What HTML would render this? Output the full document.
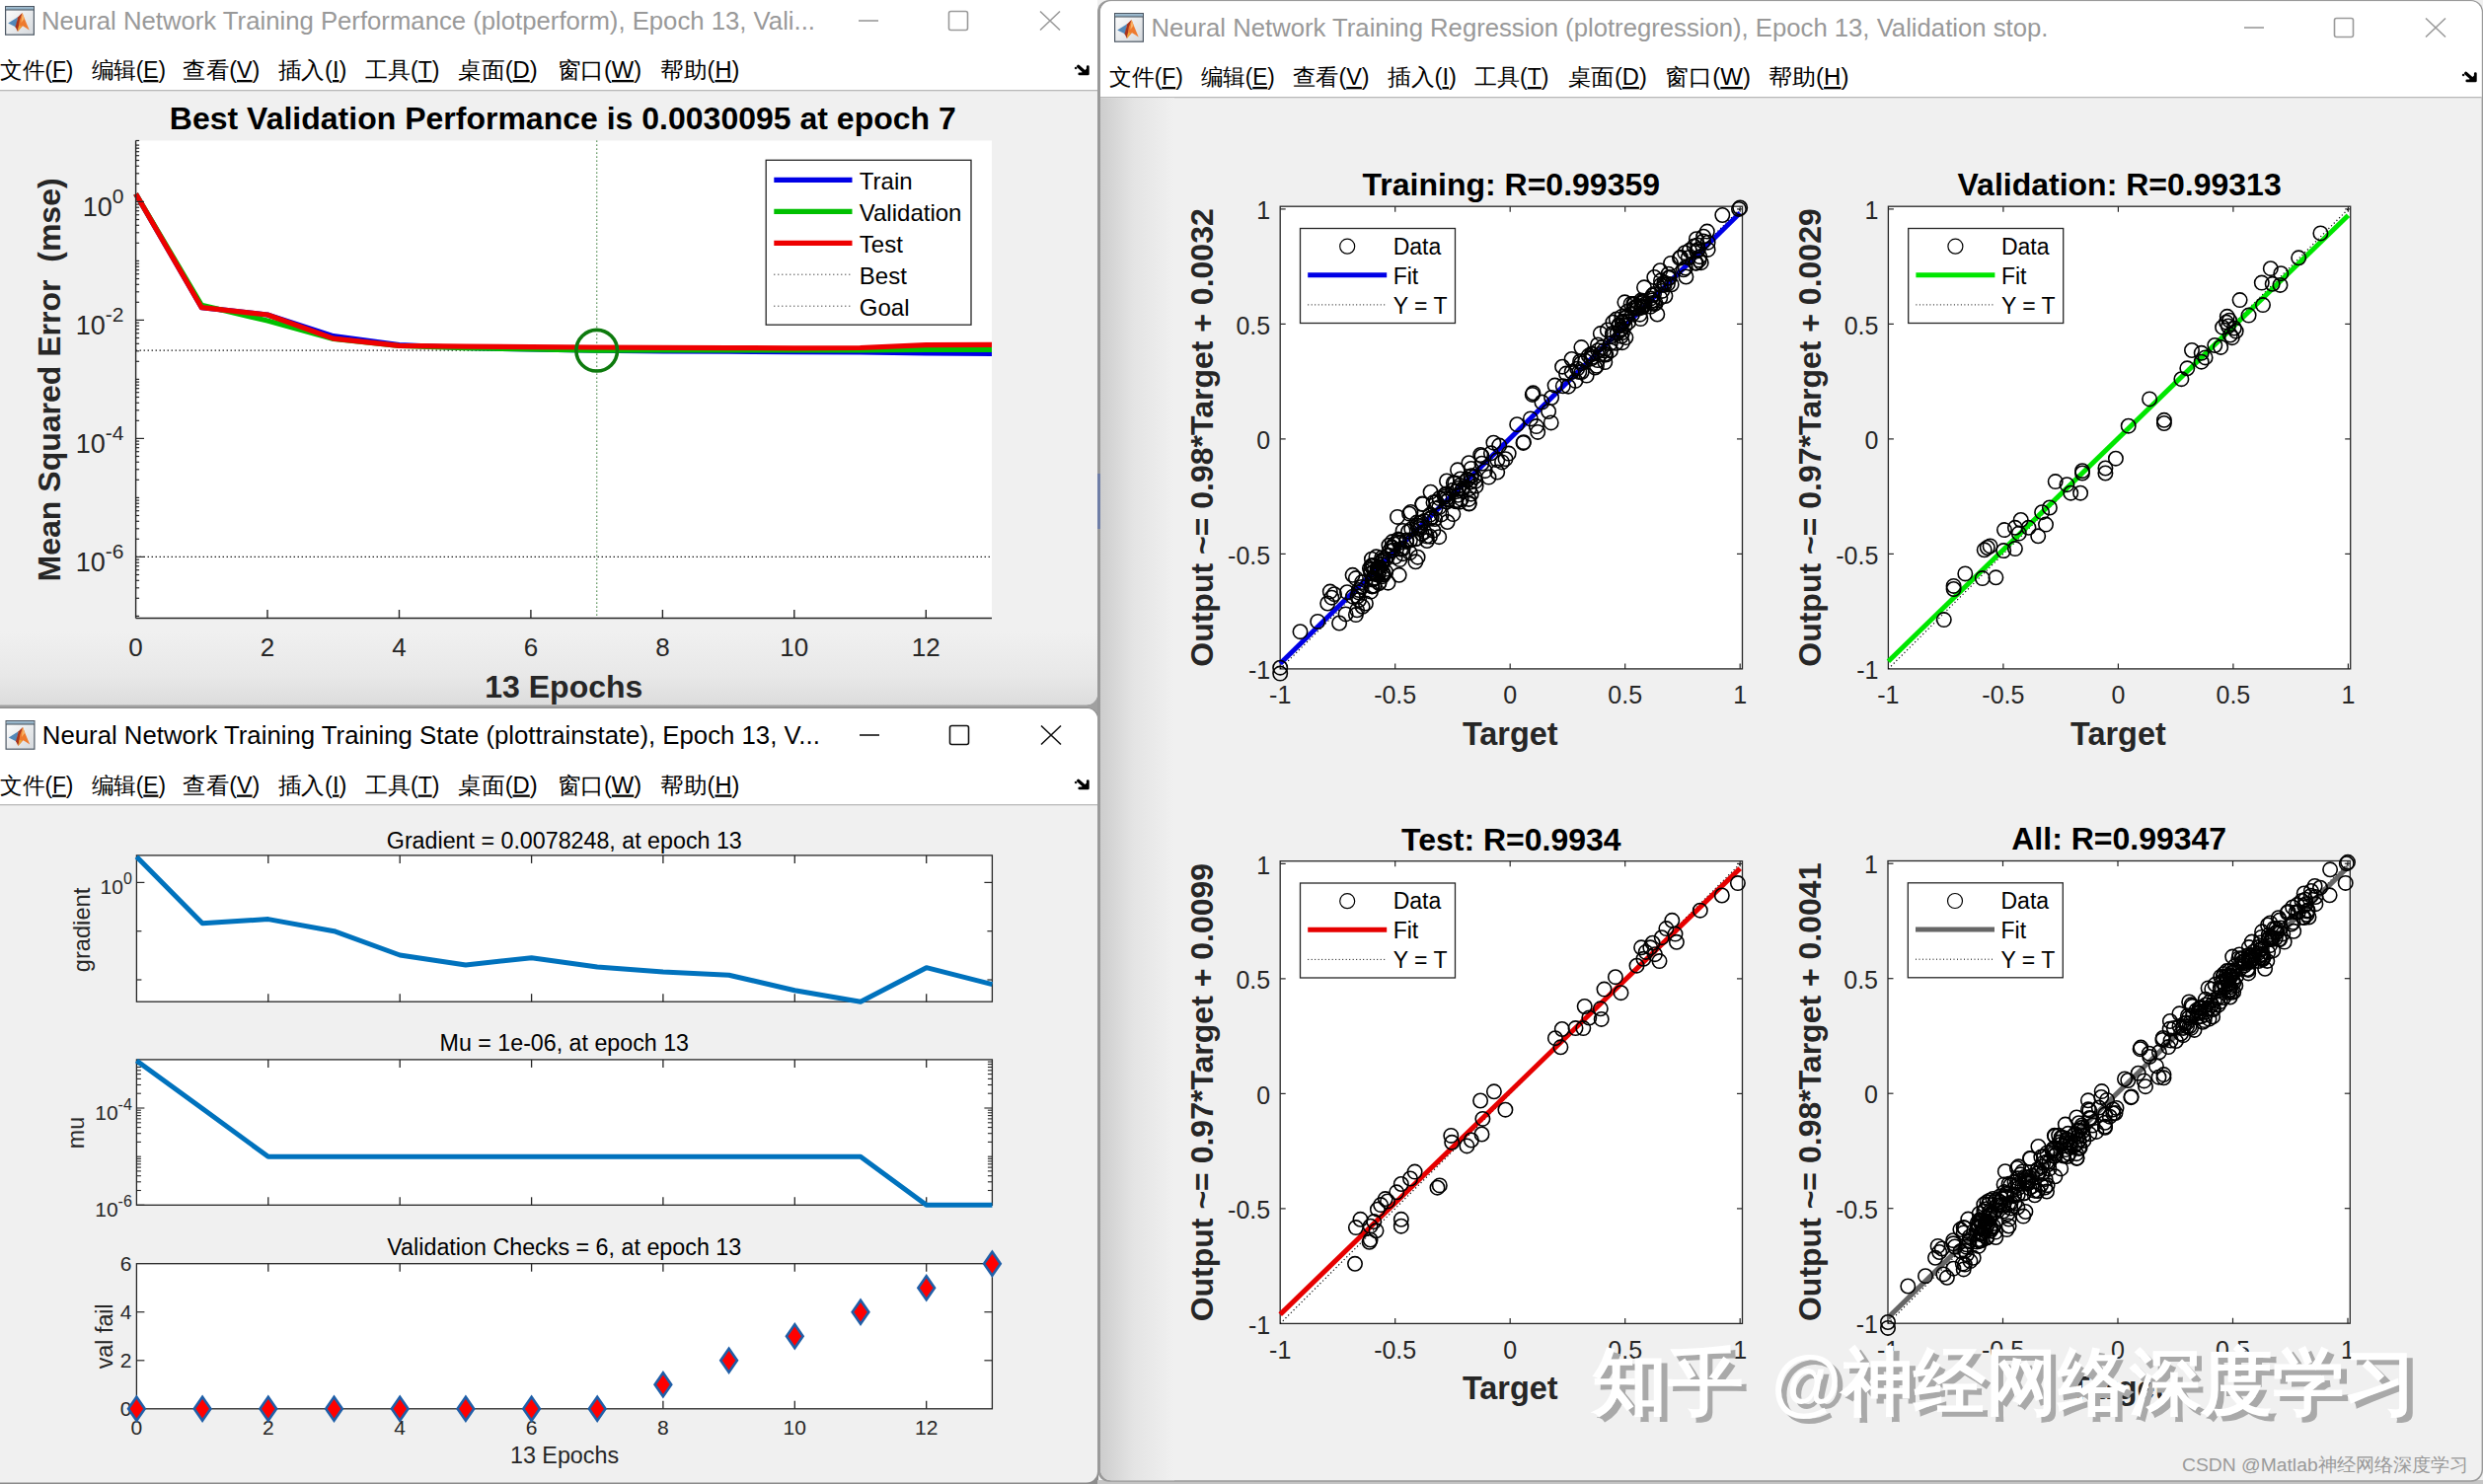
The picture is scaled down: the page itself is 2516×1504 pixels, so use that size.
<!DOCTYPE html><html><head><meta charset="utf-8"><style>html,body{margin:0;padding:0;background:#f0f0f0;overflow:hidden}svg{display:block}</style></head><body>
<svg width="2516" height="1504" viewBox="0 0 2516 1504" font-family='"Liberation Sans", sans-serif'>
<defs><linearGradient id="shadowB" x1="0" y1="0" x2="0" y2="1"><stop offset="0" stop-color="#f0f0f0"/><stop offset="0.6" stop-color="#e8e8e8"/><stop offset="1" stop-color="#dcdcdc"/></linearGradient><linearGradient id="shadowL" x1="0" y1="0" x2="1" y2="0"><stop offset="0" stop-color="#cdcdcd"/><stop offset="0.45" stop-color="#e4e4e4"/><stop offset="1" stop-color="#f0f0f0"/></linearGradient><linearGradient id="icbg" x1="0" y1="0" x2="1" y2="1"><stop offset="0" stop-color="#ffffff"/><stop offset="1" stop-color="#d4d8dc"/></linearGradient></defs>
<rect width="2516" height="1504" fill="#f0f0f0"/>
<rect x="0" y="700" width="1116" height="30" fill="#a0a0a0"/>
<rect x="-20" y="-20" width="1132" height="737.5" rx="12" fill="#a0a0a0"/>
<clipPath id="cw1"><rect x="-20" y="-20" width="1132" height="734.3" rx="11"/></clipPath>
<g clip-path="url(#cw1)">
<rect x="0" y="0" width="1112" height="716" fill="#f0f0f0"/>
<rect x="0" y="0" width="1120" height="91" fill="#ffffff"/>
<rect x="0" y="91" width="1112" height="1.3" fill="#b9b9b9"/>
<rect x="0" y="640" width="1112" height="75" fill="url(#shadowB)"/>
</g>
<g transform="translate(5,6) scale(1)">
<rect x="0.6" y="0.6" width="28.8" height="28.6" fill="url(#icbg)" stroke="#4d5864" stroke-width="1.2"/>
<rect x="1.2" y="1.2" width="27.6" height="2.6" fill="#93b3c9"/>
<line x1="0.6" y1="4" x2="29.4" y2="4" stroke="#3c4a56" stroke-width="1"/>
<path d="M3.2 17.4 L13.2 11.2 L11.2 21.5 Z" fill="#5287b8"/>
<path d="M13.2 11.2 L17.6 7.1 L12.9 25.9 L10.6 21.2 Z" fill="#a8341c"/>
<path d="M17.6 7.1 Q20.5 15 24.7 24.4 Q20.5 21.5 18 20.2 L12.9 25.9 L14.8 14.5 Z" fill="#ee7a2e"/>
<path d="M17.6 7.1 L19.6 13 L16.4 17 Z" fill="#f7b366"/>
<path d="M12.9 25.9 L14.2 20 L17 20.5 Z" fill="#e8a838"/>
</g>
<text x="42" y="29.5" font-size="25.7" text-anchor="start" font-weight="400" fill="#999999" textLength="784" lengthAdjust="spacingAndGlyphs">Neural Network Training Performance (plotperform), Epoch 13, Vali...</text>
<line x1="870" y1="21" x2="890" y2="21" stroke="#9a9a9a" stroke-width="1.6"/>
<rect x="961.5" y="11.5" width="19" height="19" rx="2" fill="none" stroke="#9a9a9a" stroke-width="1.6"/>
<path d="M1054 11.5 L1074 30.5 M1074 11.5 L1054 30.5" stroke="#9a9a9a" stroke-width="1.6"/>
<text x="0" y="79" font-size="23" text-anchor="start" font-weight="400" fill="#000" textLength="74.4" lengthAdjust="spacingAndGlyphs">文件(<tspan text-decoration="underline">F</tspan>)</text>
<text x="92.5" y="79" font-size="23" text-anchor="start" font-weight="400" fill="#000" textLength="75.5" lengthAdjust="spacingAndGlyphs">编辑(<tspan text-decoration="underline">E</tspan>)</text>
<text x="185.4" y="79" font-size="23" text-anchor="start" font-weight="400" fill="#000" textLength="78" lengthAdjust="spacingAndGlyphs">查看(<tspan text-decoration="underline">V</tspan>)</text>
<text x="281.9" y="79" font-size="23" text-anchor="start" font-weight="400" fill="#000" textLength="69.5" lengthAdjust="spacingAndGlyphs">插入(<tspan text-decoration="underline">I</tspan>)</text>
<text x="369.9" y="79" font-size="23" text-anchor="start" font-weight="400" fill="#000" textLength="75.5" lengthAdjust="spacingAndGlyphs">工具(<tspan text-decoration="underline">T</tspan>)</text>
<text x="464.1" y="79" font-size="23" text-anchor="start" font-weight="400" fill="#000" textLength="80.6" lengthAdjust="spacingAndGlyphs">桌面(<tspan text-decoration="underline">D</tspan>)</text>
<text x="564.5" y="79" font-size="23" text-anchor="start" font-weight="400" fill="#000" textLength="85.7" lengthAdjust="spacingAndGlyphs">窗口(<tspan text-decoration="underline">W</tspan>)</text>
<text x="669.4" y="79" font-size="23" text-anchor="start" font-weight="400" fill="#000" textLength="80" lengthAdjust="spacingAndGlyphs">帮助(<tspan text-decoration="underline">H</tspan>)</text>
<g transform="translate(1089,66)"><circle cx="1.1" cy="3" r="1.3" fill="#111"/><path d="M3.6 1.2 L11.5 8.2" stroke="#000" stroke-width="3.2" stroke-linecap="round"/><path d="M13.3 1.6 V8.9 H4.8" fill="none" stroke="#000" stroke-width="2.8" stroke-linecap="round" stroke-linejoin="round"/><path d="M13.3 2.5 V8.9 H5.5 Z" fill="#000"/></g>
<rect x="-20" y="717" width="1133" height="800" rx="12" fill="#8c8c8c"/>
<clipPath id="cw2"><rect x="-20" y="718" width="1132" height="784.5" rx="11"/></clipPath>
<g clip-path="url(#cw2)">
<rect x="0" y="718" width="1112" height="786" fill="#f0f0f0"/>
<rect x="0" y="718" width="1112" height="97" fill="#ffffff"/>
<rect x="0" y="815" width="1112" height="1.3" fill="#b9b9b9"/>
</g>
<g transform="translate(5.5,730) scale(1)">
<rect x="0.6" y="0.6" width="28.8" height="28.6" fill="url(#icbg)" stroke="#4d5864" stroke-width="1.2"/>
<rect x="1.2" y="1.2" width="27.6" height="2.6" fill="#93b3c9"/>
<line x1="0.6" y1="4" x2="29.4" y2="4" stroke="#3c4a56" stroke-width="1"/>
<path d="M3.2 17.4 L13.2 11.2 L11.2 21.5 Z" fill="#5287b8"/>
<path d="M13.2 11.2 L17.6 7.1 L12.9 25.9 L10.6 21.2 Z" fill="#a8341c"/>
<path d="M17.6 7.1 Q20.5 15 24.7 24.4 Q20.5 21.5 18 20.2 L12.9 25.9 L14.8 14.5 Z" fill="#ee7a2e"/>
<path d="M17.6 7.1 L19.6 13 L16.4 17 Z" fill="#f7b366"/>
<path d="M12.9 25.9 L14.2 20 L17 20.5 Z" fill="#e8a838"/>
</g>
<text x="42.8" y="754" font-size="25.7" text-anchor="start" font-weight="400" fill="#000000" textLength="788" lengthAdjust="spacingAndGlyphs">Neural Network Training Training State (plottrainstate), Epoch 13, V...</text>
<line x1="871" y1="745" x2="891" y2="745" stroke="#111111" stroke-width="1.6"/>
<rect x="962.5" y="735.5" width="19" height="19" rx="2" fill="none" stroke="#111111" stroke-width="1.6"/>
<path d="M1055 735.5 L1075 754.5 M1075 735.5 L1055 754.5" stroke="#111111" stroke-width="1.6"/>
<text x="0" y="803.5" font-size="23" text-anchor="start" font-weight="400" fill="#000" textLength="74.4" lengthAdjust="spacingAndGlyphs">文件(<tspan text-decoration="underline">F</tspan>)</text>
<text x="92.5" y="803.5" font-size="23" text-anchor="start" font-weight="400" fill="#000" textLength="75.5" lengthAdjust="spacingAndGlyphs">编辑(<tspan text-decoration="underline">E</tspan>)</text>
<text x="185.4" y="803.5" font-size="23" text-anchor="start" font-weight="400" fill="#000" textLength="78" lengthAdjust="spacingAndGlyphs">查看(<tspan text-decoration="underline">V</tspan>)</text>
<text x="281.9" y="803.5" font-size="23" text-anchor="start" font-weight="400" fill="#000" textLength="69.5" lengthAdjust="spacingAndGlyphs">插入(<tspan text-decoration="underline">I</tspan>)</text>
<text x="369.9" y="803.5" font-size="23" text-anchor="start" font-weight="400" fill="#000" textLength="75.5" lengthAdjust="spacingAndGlyphs">工具(<tspan text-decoration="underline">T</tspan>)</text>
<text x="464.1" y="803.5" font-size="23" text-anchor="start" font-weight="400" fill="#000" textLength="80.6" lengthAdjust="spacingAndGlyphs">桌面(<tspan text-decoration="underline">D</tspan>)</text>
<text x="564.5" y="803.5" font-size="23" text-anchor="start" font-weight="400" fill="#000" textLength="85.7" lengthAdjust="spacingAndGlyphs">窗口(<tspan text-decoration="underline">W</tspan>)</text>
<text x="669.4" y="803.5" font-size="23" text-anchor="start" font-weight="400" fill="#000" textLength="80" lengthAdjust="spacingAndGlyphs">帮助(<tspan text-decoration="underline">H</tspan>)</text>
<g transform="translate(1089,790)"><circle cx="1.1" cy="3" r="1.3" fill="#111"/><path d="M3.6 1.2 L11.5 8.2" stroke="#000" stroke-width="3.2" stroke-linecap="round"/><path d="M13.3 1.6 V8.9 H4.8" fill="none" stroke="#000" stroke-width="2.8" stroke-linecap="round" stroke-linejoin="round"/><path d="M13.3 2.5 V8.9 H5.5 Z" fill="#000"/></g>
<rect x="1112" y="1500" width="1404" height="4" fill="#c4c4c4"/>
<rect x="1112" y="0" width="1404" height="1501.8" rx="12" fill="#9a9a9a"/>
<rect x="1112" y="480" width="3" height="56" fill="#6f7ea6"/>
<clipPath id="cw3"><rect x="1115" y="1.3" width="1399.6" height="1499" rx="11"/></clipPath>
<g clip-path="url(#cw3)">
<rect x="1115" y="0" width="1401" height="1504" fill="#f0f0f0"/>
<rect x="1115" y="0" width="1401" height="98" fill="#ffffff"/>
<rect x="1115" y="98" width="1401" height="1.3" fill="#b9b9b9"/>
<rect x="1115" y="99.3" width="75" height="1404" fill="url(#shadowL)"/>
</g>
<g transform="translate(1129,13) scale(1)">
<rect x="0.6" y="0.6" width="28.8" height="28.6" fill="url(#icbg)" stroke="#4d5864" stroke-width="1.2"/>
<rect x="1.2" y="1.2" width="27.6" height="2.6" fill="#93b3c9"/>
<line x1="0.6" y1="4" x2="29.4" y2="4" stroke="#3c4a56" stroke-width="1"/>
<path d="M3.2 17.4 L13.2 11.2 L11.2 21.5 Z" fill="#5287b8"/>
<path d="M13.2 11.2 L17.6 7.1 L12.9 25.9 L10.6 21.2 Z" fill="#a8341c"/>
<path d="M17.6 7.1 Q20.5 15 24.7 24.4 Q20.5 21.5 18 20.2 L12.9 25.9 L14.8 14.5 Z" fill="#ee7a2e"/>
<path d="M17.6 7.1 L19.6 13 L16.4 17 Z" fill="#f7b366"/>
<path d="M12.9 25.9 L14.2 20 L17 20.5 Z" fill="#e8a838"/>
</g>
<text x="1166.4" y="36.6" font-size="25.7" text-anchor="start" font-weight="400" fill="#999999" textLength="909" lengthAdjust="spacingAndGlyphs">Neural Network Training Regression (plotregression), Epoch 13, Validation stop.</text>
<line x1="2274" y1="28" x2="2294" y2="28" stroke="#9a9a9a" stroke-width="1.6"/>
<rect x="2365.5" y="18.5" width="19" height="19" rx="2" fill="none" stroke="#9a9a9a" stroke-width="1.6"/>
<path d="M2458 18.5 L2478 37.5 M2478 18.5 L2458 37.5" stroke="#9a9a9a" stroke-width="1.6"/>
<text x="1124" y="86" font-size="23" text-anchor="start" font-weight="400" fill="#000" textLength="74.8" lengthAdjust="spacingAndGlyphs">文件(<tspan text-decoration="underline">F</tspan>)</text>
<text x="1216.6" y="86" font-size="23" text-anchor="start" font-weight="400" fill="#000" textLength="75.2" lengthAdjust="spacingAndGlyphs">编辑(<tspan text-decoration="underline">E</tspan>)</text>
<text x="1309.6" y="86" font-size="23" text-anchor="start" font-weight="400" fill="#000" textLength="78.1" lengthAdjust="spacingAndGlyphs">查看(<tspan text-decoration="underline">V</tspan>)</text>
<text x="1406" y="86" font-size="23" text-anchor="start" font-weight="400" fill="#000" textLength="70" lengthAdjust="spacingAndGlyphs">插入(<tspan text-decoration="underline">I</tspan>)</text>
<text x="1494" y="86" font-size="23" text-anchor="start" font-weight="400" fill="#000" textLength="75.5" lengthAdjust="spacingAndGlyphs">工具(<tspan text-decoration="underline">T</tspan>)</text>
<text x="1588.7" y="86" font-size="23" text-anchor="start" font-weight="400" fill="#000" textLength="80.1" lengthAdjust="spacingAndGlyphs">桌面(<tspan text-decoration="underline">D</tspan>)</text>
<text x="1687.4" y="86" font-size="23" text-anchor="start" font-weight="400" fill="#000" textLength="86.6" lengthAdjust="spacingAndGlyphs">窗口(<tspan text-decoration="underline">W</tspan>)</text>
<text x="1792" y="86" font-size="23" text-anchor="start" font-weight="400" fill="#000" textLength="81.5" lengthAdjust="spacingAndGlyphs">帮助(<tspan text-decoration="underline">H</tspan>)</text>
<g transform="translate(2495,73)"><circle cx="1.1" cy="3" r="1.3" fill="#111"/><path d="M3.6 1.2 L11.5 8.2" stroke="#000" stroke-width="3.2" stroke-linecap="round"/><path d="M13.3 1.6 V8.9 H4.8" fill="none" stroke="#000" stroke-width="2.8" stroke-linecap="round" stroke-linejoin="round"/><path d="M13.3 2.5 V8.9 H5.5 Z" fill="#000"/></g>
<rect x="137.6" y="142.5" width="867.4" height="484" fill="#fff"/>
<line x1="137.6" y1="564.4" x2="1005" y2="564.4" stroke="#000" stroke-width="1.3" stroke-dasharray="1.3 2.7"/>
<line x1="137.6" y1="355.2" x2="1005" y2="355.2" stroke="#000" stroke-width="1.3" stroke-dasharray="1.3 2.7"/>
<line x1="604.7" y1="142.5" x2="604.7" y2="626.5" stroke="#3d7d3d" stroke-width="1.3" stroke-dasharray="1.3 2.7"/>
<polyline points="137.6,196.5 204.3,311.7 271,319 337.8,340.7 404.5,349.6 471.2,352.5 537.9,354 604.7,355.2 671.4,355.8 738.1,356.2 804.8,356.6 871.6,357 938.3,357.8 1005,358.3" fill="none" stroke="#0000e6" stroke-width="5.2" stroke-linejoin="round"/>
<polyline points="137.6,196.5 204.3,309.3 271,325 337.8,343.5 404.5,350.5 471.2,352.6 537.9,354 604.7,355.2 671.4,355 738.1,355 804.8,355 871.6,354.8 938.3,354.5 1005,354.3" fill="none" stroke="#00c000" stroke-width="5.2" stroke-linejoin="round"/>
<polyline points="137.6,196.5 204.3,311.7 271,319 337.8,343.1 404.5,350.4 471.2,351.2 537.9,351.6 604.7,352 671.4,352.3 738.1,352.6 804.8,352.8 871.6,352.5 938.3,349.6 1005,349.4" fill="none" stroke="#ee0000" stroke-width="5.2" stroke-linejoin="round"/>
<circle cx="604.7" cy="355.2" r="20.8" fill="none" stroke="#0d7a0d" stroke-width="3.6"/>
<line x1="137.6" y1="142.5" x2="137.6" y2="626.5" stroke="#262626" stroke-width="1.4"/>
<line x1="137.6" y1="626.5" x2="1005" y2="626.5" stroke="#262626" stroke-width="1.4"/>
<line x1="271" y1="626.5" x2="271" y2="618" stroke="#262626" stroke-width="1.4"/>
<line x1="404.5" y1="626.5" x2="404.5" y2="618" stroke="#262626" stroke-width="1.4"/>
<line x1="537.9" y1="626.5" x2="537.9" y2="618" stroke="#262626" stroke-width="1.4"/>
<line x1="671.4" y1="626.5" x2="671.4" y2="618" stroke="#262626" stroke-width="1.4"/>
<line x1="804.8" y1="626.5" x2="804.8" y2="618" stroke="#262626" stroke-width="1.4"/>
<line x1="938.3" y1="626.5" x2="938.3" y2="618" stroke="#262626" stroke-width="1.4"/>
<line x1="137.6" y1="624.4" x2="141.1" y2="624.4" stroke="#262626" stroke-width="1.2"/>
<line x1="137.6" y1="606.3" x2="141.1" y2="606.3" stroke="#262626" stroke-width="1.2"/>
<line x1="137.6" y1="595.8" x2="141.1" y2="595.8" stroke="#262626" stroke-width="1.2"/>
<line x1="137.6" y1="588.3" x2="141.1" y2="588.3" stroke="#262626" stroke-width="1.2"/>
<line x1="137.6" y1="582.5" x2="141.1" y2="582.5" stroke="#262626" stroke-width="1.2"/>
<line x1="137.6" y1="577.7" x2="141.1" y2="577.7" stroke="#262626" stroke-width="1.2"/>
<line x1="137.6" y1="573.7" x2="141.1" y2="573.7" stroke="#262626" stroke-width="1.2"/>
<line x1="137.6" y1="570.2" x2="141.1" y2="570.2" stroke="#262626" stroke-width="1.2"/>
<line x1="137.6" y1="567.1" x2="141.1" y2="567.1" stroke="#262626" stroke-width="1.2"/>
<line x1="137.6" y1="564.4" x2="146" y2="564.4" stroke="#262626" stroke-width="1.2"/>
<line x1="137.6" y1="546.3" x2="141.1" y2="546.3" stroke="#262626" stroke-width="1.2"/>
<line x1="137.6" y1="535.8" x2="141.1" y2="535.8" stroke="#262626" stroke-width="1.2"/>
<line x1="137.6" y1="528.3" x2="141.1" y2="528.3" stroke="#262626" stroke-width="1.2"/>
<line x1="137.6" y1="522.5" x2="141.1" y2="522.5" stroke="#262626" stroke-width="1.2"/>
<line x1="137.6" y1="517.7" x2="141.1" y2="517.7" stroke="#262626" stroke-width="1.2"/>
<line x1="137.6" y1="513.7" x2="141.1" y2="513.7" stroke="#262626" stroke-width="1.2"/>
<line x1="137.6" y1="510.2" x2="141.1" y2="510.2" stroke="#262626" stroke-width="1.2"/>
<line x1="137.6" y1="507.1" x2="141.1" y2="507.1" stroke="#262626" stroke-width="1.2"/>
<line x1="137.6" y1="504.4" x2="141.1" y2="504.4" stroke="#262626" stroke-width="1.2"/>
<line x1="137.6" y1="486.3" x2="141.1" y2="486.3" stroke="#262626" stroke-width="1.2"/>
<line x1="137.6" y1="475.8" x2="141.1" y2="475.8" stroke="#262626" stroke-width="1.2"/>
<line x1="137.6" y1="468.3" x2="141.1" y2="468.3" stroke="#262626" stroke-width="1.2"/>
<line x1="137.6" y1="462.5" x2="141.1" y2="462.5" stroke="#262626" stroke-width="1.2"/>
<line x1="137.6" y1="457.7" x2="141.1" y2="457.7" stroke="#262626" stroke-width="1.2"/>
<line x1="137.6" y1="453.7" x2="141.1" y2="453.7" stroke="#262626" stroke-width="1.2"/>
<line x1="137.6" y1="450.2" x2="141.1" y2="450.2" stroke="#262626" stroke-width="1.2"/>
<line x1="137.6" y1="447.1" x2="141.1" y2="447.1" stroke="#262626" stroke-width="1.2"/>
<line x1="137.6" y1="444.4" x2="146" y2="444.4" stroke="#262626" stroke-width="1.2"/>
<line x1="137.6" y1="426.3" x2="141.1" y2="426.3" stroke="#262626" stroke-width="1.2"/>
<line x1="137.6" y1="415.8" x2="141.1" y2="415.8" stroke="#262626" stroke-width="1.2"/>
<line x1="137.6" y1="408.3" x2="141.1" y2="408.3" stroke="#262626" stroke-width="1.2"/>
<line x1="137.6" y1="402.5" x2="141.1" y2="402.5" stroke="#262626" stroke-width="1.2"/>
<line x1="137.6" y1="397.7" x2="141.1" y2="397.7" stroke="#262626" stroke-width="1.2"/>
<line x1="137.6" y1="393.7" x2="141.1" y2="393.7" stroke="#262626" stroke-width="1.2"/>
<line x1="137.6" y1="390.2" x2="141.1" y2="390.2" stroke="#262626" stroke-width="1.2"/>
<line x1="137.6" y1="387.1" x2="141.1" y2="387.1" stroke="#262626" stroke-width="1.2"/>
<line x1="137.6" y1="384.4" x2="141.1" y2="384.4" stroke="#262626" stroke-width="1.2"/>
<line x1="137.6" y1="366.3" x2="141.1" y2="366.3" stroke="#262626" stroke-width="1.2"/>
<line x1="137.6" y1="355.8" x2="141.1" y2="355.8" stroke="#262626" stroke-width="1.2"/>
<line x1="137.6" y1="348.3" x2="141.1" y2="348.3" stroke="#262626" stroke-width="1.2"/>
<line x1="137.6" y1="342.5" x2="141.1" y2="342.5" stroke="#262626" stroke-width="1.2"/>
<line x1="137.6" y1="337.7" x2="141.1" y2="337.7" stroke="#262626" stroke-width="1.2"/>
<line x1="137.6" y1="333.7" x2="141.1" y2="333.7" stroke="#262626" stroke-width="1.2"/>
<line x1="137.6" y1="330.2" x2="141.1" y2="330.2" stroke="#262626" stroke-width="1.2"/>
<line x1="137.6" y1="327.1" x2="141.1" y2="327.1" stroke="#262626" stroke-width="1.2"/>
<line x1="137.6" y1="324.4" x2="146" y2="324.4" stroke="#262626" stroke-width="1.2"/>
<line x1="137.6" y1="306.3" x2="141.1" y2="306.3" stroke="#262626" stroke-width="1.2"/>
<line x1="137.6" y1="295.8" x2="141.1" y2="295.8" stroke="#262626" stroke-width="1.2"/>
<line x1="137.6" y1="288.3" x2="141.1" y2="288.3" stroke="#262626" stroke-width="1.2"/>
<line x1="137.6" y1="282.5" x2="141.1" y2="282.5" stroke="#262626" stroke-width="1.2"/>
<line x1="137.6" y1="277.7" x2="141.1" y2="277.7" stroke="#262626" stroke-width="1.2"/>
<line x1="137.6" y1="273.7" x2="141.1" y2="273.7" stroke="#262626" stroke-width="1.2"/>
<line x1="137.6" y1="270.2" x2="141.1" y2="270.2" stroke="#262626" stroke-width="1.2"/>
<line x1="137.6" y1="267.1" x2="141.1" y2="267.1" stroke="#262626" stroke-width="1.2"/>
<line x1="137.6" y1="264.4" x2="141.1" y2="264.4" stroke="#262626" stroke-width="1.2"/>
<line x1="137.6" y1="246.3" x2="141.1" y2="246.3" stroke="#262626" stroke-width="1.2"/>
<line x1="137.6" y1="235.8" x2="141.1" y2="235.8" stroke="#262626" stroke-width="1.2"/>
<line x1="137.6" y1="228.3" x2="141.1" y2="228.3" stroke="#262626" stroke-width="1.2"/>
<line x1="137.6" y1="222.5" x2="141.1" y2="222.5" stroke="#262626" stroke-width="1.2"/>
<line x1="137.6" y1="217.7" x2="141.1" y2="217.7" stroke="#262626" stroke-width="1.2"/>
<line x1="137.6" y1="213.7" x2="141.1" y2="213.7" stroke="#262626" stroke-width="1.2"/>
<line x1="137.6" y1="210.2" x2="141.1" y2="210.2" stroke="#262626" stroke-width="1.2"/>
<line x1="137.6" y1="207.1" x2="141.1" y2="207.1" stroke="#262626" stroke-width="1.2"/>
<line x1="137.6" y1="204.4" x2="146" y2="204.4" stroke="#262626" stroke-width="1.2"/>
<line x1="137.6" y1="186.3" x2="141.1" y2="186.3" stroke="#262626" stroke-width="1.2"/>
<line x1="137.6" y1="175.8" x2="141.1" y2="175.8" stroke="#262626" stroke-width="1.2"/>
<line x1="137.6" y1="168.3" x2="141.1" y2="168.3" stroke="#262626" stroke-width="1.2"/>
<line x1="137.6" y1="162.5" x2="141.1" y2="162.5" stroke="#262626" stroke-width="1.2"/>
<line x1="137.6" y1="157.7" x2="141.1" y2="157.7" stroke="#262626" stroke-width="1.2"/>
<line x1="137.6" y1="153.7" x2="141.1" y2="153.7" stroke="#262626" stroke-width="1.2"/>
<line x1="137.6" y1="150.2" x2="141.1" y2="150.2" stroke="#262626" stroke-width="1.2"/>
<line x1="137.6" y1="147.1" x2="141.1" y2="147.1" stroke="#262626" stroke-width="1.2"/>
<line x1="137.6" y1="142.5" x2="141.1" y2="142.5" stroke="#262626" stroke-width="1.2"/>
<text x="137.6" y="664.6" font-size="26" text-anchor="middle" font-weight="400" fill="#262626">0</text>
<text x="271" y="664.6" font-size="26" text-anchor="middle" font-weight="400" fill="#262626">2</text>
<text x="404.5" y="664.6" font-size="26" text-anchor="middle" font-weight="400" fill="#262626">4</text>
<text x="537.9" y="664.6" font-size="26" text-anchor="middle" font-weight="400" fill="#262626">6</text>
<text x="671.4" y="664.6" font-size="26" text-anchor="middle" font-weight="400" fill="#262626">8</text>
<text x="804.8" y="664.6" font-size="26" text-anchor="middle" font-weight="400" fill="#262626">10</text>
<text x="938.3" y="664.6" font-size="26" text-anchor="middle" font-weight="400" fill="#262626">12</text>
<text x="125.5" y="218.7" font-size="27" text-anchor="end" fill="#262626">10<tspan font-size="21" dy="-12.9">0</tspan></text>
<text x="125.5" y="338.7" font-size="27" text-anchor="end" fill="#262626">10<tspan font-size="21" dy="-12.9">-2</tspan></text>
<text x="125.5" y="458.7" font-size="27" text-anchor="end" fill="#262626">10<tspan font-size="21" dy="-12.9">-4</tspan></text>
<text x="125.5" y="578.7" font-size="27" text-anchor="end" fill="#262626">10<tspan font-size="21" dy="-12.9">-6</tspan></text>
<text x="570.3" y="130.8" font-size="32" text-anchor="middle" font-weight="700" fill="#000" textLength="797" lengthAdjust="spacingAndGlyphs">Best Validation Performance is 0.0030095 at epoch 7</text>
<text x="571.3" y="706.6" font-size="32" text-anchor="middle" font-weight="700" fill="#262626">13 Epochs</text>
<text transform="translate(61,384.9) rotate(-90)" font-size="32" font-weight="700" text-anchor="middle" fill="#262626" xml:space="preserve">Mean Squared Error  (mse)</text>
<rect x="776.2" y="162.3" width="207.8" height="166.9" fill="#fff" stroke="#262626" stroke-width="1.3"/>
<line x1="784.3" y1="182.4" x2="863.5" y2="182.4" stroke="#0000e6" stroke-width="5.2"/>
<text x="870.8" y="191.7" font-size="24" text-anchor="start" font-weight="400" fill="#000">Train</text>
<line x1="784.3" y1="214.3" x2="863.5" y2="214.3" stroke="#00c000" stroke-width="5.2"/>
<text x="870.8" y="223.7" font-size="24" text-anchor="start" font-weight="400" fill="#000">Validation</text>
<line x1="784.3" y1="246.3" x2="863.5" y2="246.3" stroke="#ee0000" stroke-width="5.2"/>
<text x="870.8" y="255.6" font-size="24" text-anchor="start" font-weight="400" fill="#000">Test</text>
<line x1="784.3" y1="278.2" x2="863.5" y2="278.2" stroke="#000" stroke-width="1" stroke-dasharray="1 3"/>
<text x="870.8" y="287.6" font-size="24" text-anchor="start" font-weight="400" fill="#000">Best</text>
<line x1="784.3" y1="310.2" x2="863.5" y2="310.2" stroke="#000" stroke-width="1" stroke-dasharray="1 3"/>
<text x="870.8" y="319.5" font-size="24" text-anchor="start" font-weight="400" fill="#000">Goal</text>
<rect x="138.4" y="866.9" width="867" height="148.3" fill="#fff" stroke="#262626" stroke-width="1.3"/>
<line x1="271.8" y1="1015.2" x2="271.8" y2="1007.2" stroke="#262626" stroke-width="1.3"/>
<line x1="271.8" y1="866.9" x2="271.8" y2="874.9" stroke="#262626" stroke-width="1.3"/>
<line x1="405.2" y1="1015.2" x2="405.2" y2="1007.2" stroke="#262626" stroke-width="1.3"/>
<line x1="405.2" y1="866.9" x2="405.2" y2="874.9" stroke="#262626" stroke-width="1.3"/>
<line x1="538.6" y1="1015.2" x2="538.6" y2="1007.2" stroke="#262626" stroke-width="1.3"/>
<line x1="538.6" y1="866.9" x2="538.6" y2="874.9" stroke="#262626" stroke-width="1.3"/>
<line x1="671.9" y1="1015.2" x2="671.9" y2="1007.2" stroke="#262626" stroke-width="1.3"/>
<line x1="671.9" y1="866.9" x2="671.9" y2="874.9" stroke="#262626" stroke-width="1.3"/>
<line x1="805.3" y1="1015.2" x2="805.3" y2="1007.2" stroke="#262626" stroke-width="1.3"/>
<line x1="805.3" y1="866.9" x2="805.3" y2="874.9" stroke="#262626" stroke-width="1.3"/>
<line x1="938.7" y1="1015.2" x2="938.7" y2="1007.2" stroke="#262626" stroke-width="1.3"/>
<line x1="938.7" y1="866.9" x2="938.7" y2="874.9" stroke="#262626" stroke-width="1.3"/>
<line x1="138.4" y1="894.4" x2="146.4" y2="894.4" stroke="#262626" stroke-width="1.2"/>
<line x1="1005.4" y1="894.4" x2="997.4" y2="894.4" stroke="#262626" stroke-width="1.2"/>
<line x1="138.4" y1="943.7" x2="143.4" y2="943.7" stroke="#262626" stroke-width="1.2"/>
<line x1="1005.4" y1="943.7" x2="1000.4" y2="943.7" stroke="#262626" stroke-width="1.2"/>
<line x1="138.4" y1="993" x2="143.4" y2="993" stroke="#262626" stroke-width="1.2"/>
<line x1="1005.4" y1="993" x2="1000.4" y2="993" stroke="#262626" stroke-width="1.2"/>
<polyline points="138.4,868.3 205.1,935.7 271.8,931.6 338.5,943.7 405.2,968 471.9,978 538.6,970.7 605.2,980.1 671.9,985 738.6,988.2 805.3,1003.8 872,1015.2 938.7,980.7 1005.4,997.6" fill="none" stroke="#0072bd" stroke-width="5" stroke-linejoin="round"/>
<text x="133.8" y="906" font-size="21" text-anchor="end" fill="#262626">10<tspan font-size="16" dy="-10">0</tspan></text>
<text x="571.8" y="859.7" font-size="23.3" text-anchor="middle" font-weight="400" fill="#000" textLength="360" lengthAdjust="spacingAndGlyphs">Gradient = 0.0078248, at epoch 13</text>
<text transform="translate(91,942.5) rotate(-90)" font-size="23.7" text-anchor="middle" fill="#262626">gradient</text>
<rect x="138.4" y="1073.9" width="867" height="147.4" fill="#fff" stroke="#262626" stroke-width="1.3"/>
<line x1="271.8" y1="1221.3" x2="271.8" y2="1213.3" stroke="#262626" stroke-width="1.3"/>
<line x1="271.8" y1="1073.9" x2="271.8" y2="1081.9" stroke="#262626" stroke-width="1.3"/>
<line x1="405.2" y1="1221.3" x2="405.2" y2="1213.3" stroke="#262626" stroke-width="1.3"/>
<line x1="405.2" y1="1073.9" x2="405.2" y2="1081.9" stroke="#262626" stroke-width="1.3"/>
<line x1="538.6" y1="1221.3" x2="538.6" y2="1213.3" stroke="#262626" stroke-width="1.3"/>
<line x1="538.6" y1="1073.9" x2="538.6" y2="1081.9" stroke="#262626" stroke-width="1.3"/>
<line x1="671.9" y1="1221.3" x2="671.9" y2="1213.3" stroke="#262626" stroke-width="1.3"/>
<line x1="671.9" y1="1073.9" x2="671.9" y2="1081.9" stroke="#262626" stroke-width="1.3"/>
<line x1="805.3" y1="1221.3" x2="805.3" y2="1213.3" stroke="#262626" stroke-width="1.3"/>
<line x1="805.3" y1="1073.9" x2="805.3" y2="1081.9" stroke="#262626" stroke-width="1.3"/>
<line x1="938.7" y1="1221.3" x2="938.7" y2="1213.3" stroke="#262626" stroke-width="1.3"/>
<line x1="938.7" y1="1073.9" x2="938.7" y2="1081.9" stroke="#262626" stroke-width="1.3"/>
<line x1="138.4" y1="1221.3" x2="146.4" y2="1221.3" stroke="#262626" stroke-width="1.1"/>
<line x1="1005.4" y1="1221.3" x2="997.4" y2="1221.3" stroke="#262626" stroke-width="1.1"/>
<line x1="138.4" y1="1206.5" x2="142.9" y2="1206.5" stroke="#262626" stroke-width="1.1"/>
<line x1="1005.4" y1="1206.5" x2="1000.9" y2="1206.5" stroke="#262626" stroke-width="1.1"/>
<line x1="138.4" y1="1197.8" x2="142.9" y2="1197.8" stroke="#262626" stroke-width="1.1"/>
<line x1="1005.4" y1="1197.8" x2="1000.9" y2="1197.8" stroke="#262626" stroke-width="1.1"/>
<line x1="138.4" y1="1191.7" x2="142.9" y2="1191.7" stroke="#262626" stroke-width="1.1"/>
<line x1="1005.4" y1="1191.7" x2="1000.9" y2="1191.7" stroke="#262626" stroke-width="1.1"/>
<line x1="138.4" y1="1186.9" x2="142.9" y2="1186.9" stroke="#262626" stroke-width="1.1"/>
<line x1="1005.4" y1="1186.9" x2="1000.9" y2="1186.9" stroke="#262626" stroke-width="1.1"/>
<line x1="138.4" y1="1183.1" x2="142.9" y2="1183.1" stroke="#262626" stroke-width="1.1"/>
<line x1="1005.4" y1="1183.1" x2="1000.9" y2="1183.1" stroke="#262626" stroke-width="1.1"/>
<line x1="138.4" y1="1179.8" x2="142.9" y2="1179.8" stroke="#262626" stroke-width="1.1"/>
<line x1="1005.4" y1="1179.8" x2="1000.9" y2="1179.8" stroke="#262626" stroke-width="1.1"/>
<line x1="138.4" y1="1176.9" x2="142.9" y2="1176.9" stroke="#262626" stroke-width="1.1"/>
<line x1="1005.4" y1="1176.9" x2="1000.9" y2="1176.9" stroke="#262626" stroke-width="1.1"/>
<line x1="138.4" y1="1174.4" x2="142.9" y2="1174.4" stroke="#262626" stroke-width="1.1"/>
<line x1="1005.4" y1="1174.4" x2="1000.9" y2="1174.4" stroke="#262626" stroke-width="1.1"/>
<line x1="138.4" y1="1172.2" x2="142.9" y2="1172.2" stroke="#262626" stroke-width="1.1"/>
<line x1="1005.4" y1="1172.2" x2="1000.9" y2="1172.2" stroke="#262626" stroke-width="1.1"/>
<line x1="138.4" y1="1157.4" x2="142.9" y2="1157.4" stroke="#262626" stroke-width="1.1"/>
<line x1="1005.4" y1="1157.4" x2="1000.9" y2="1157.4" stroke="#262626" stroke-width="1.1"/>
<line x1="138.4" y1="1148.7" x2="142.9" y2="1148.7" stroke="#262626" stroke-width="1.1"/>
<line x1="1005.4" y1="1148.7" x2="1000.9" y2="1148.7" stroke="#262626" stroke-width="1.1"/>
<line x1="138.4" y1="1142.6" x2="142.9" y2="1142.6" stroke="#262626" stroke-width="1.1"/>
<line x1="1005.4" y1="1142.6" x2="1000.9" y2="1142.6" stroke="#262626" stroke-width="1.1"/>
<line x1="138.4" y1="1137.8" x2="142.9" y2="1137.8" stroke="#262626" stroke-width="1.1"/>
<line x1="1005.4" y1="1137.8" x2="1000.9" y2="1137.8" stroke="#262626" stroke-width="1.1"/>
<line x1="138.4" y1="1133.9" x2="142.9" y2="1133.9" stroke="#262626" stroke-width="1.1"/>
<line x1="1005.4" y1="1133.9" x2="1000.9" y2="1133.9" stroke="#262626" stroke-width="1.1"/>
<line x1="138.4" y1="1130.6" x2="142.9" y2="1130.6" stroke="#262626" stroke-width="1.1"/>
<line x1="1005.4" y1="1130.6" x2="1000.9" y2="1130.6" stroke="#262626" stroke-width="1.1"/>
<line x1="138.4" y1="1127.8" x2="142.9" y2="1127.8" stroke="#262626" stroke-width="1.1"/>
<line x1="1005.4" y1="1127.8" x2="1000.9" y2="1127.8" stroke="#262626" stroke-width="1.1"/>
<line x1="138.4" y1="1125.2" x2="142.9" y2="1125.2" stroke="#262626" stroke-width="1.1"/>
<line x1="1005.4" y1="1125.2" x2="1000.9" y2="1125.2" stroke="#262626" stroke-width="1.1"/>
<line x1="138.4" y1="1123" x2="146.4" y2="1123" stroke="#262626" stroke-width="1.1"/>
<line x1="1005.4" y1="1123" x2="997.4" y2="1123" stroke="#262626" stroke-width="1.1"/>
<line x1="138.4" y1="1108.2" x2="142.9" y2="1108.2" stroke="#262626" stroke-width="1.1"/>
<line x1="1005.4" y1="1108.2" x2="1000.9" y2="1108.2" stroke="#262626" stroke-width="1.1"/>
<line x1="138.4" y1="1099.5" x2="142.9" y2="1099.5" stroke="#262626" stroke-width="1.1"/>
<line x1="1005.4" y1="1099.5" x2="1000.9" y2="1099.5" stroke="#262626" stroke-width="1.1"/>
<line x1="138.4" y1="1093.4" x2="142.9" y2="1093.4" stroke="#262626" stroke-width="1.1"/>
<line x1="1005.4" y1="1093.4" x2="1000.9" y2="1093.4" stroke="#262626" stroke-width="1.1"/>
<line x1="138.4" y1="1088.6" x2="142.9" y2="1088.6" stroke="#262626" stroke-width="1.1"/>
<line x1="1005.4" y1="1088.6" x2="1000.9" y2="1088.6" stroke="#262626" stroke-width="1.1"/>
<line x1="138.4" y1="1084.8" x2="142.9" y2="1084.8" stroke="#262626" stroke-width="1.1"/>
<line x1="1005.4" y1="1084.8" x2="1000.9" y2="1084.8" stroke="#262626" stroke-width="1.1"/>
<line x1="138.4" y1="1081.5" x2="142.9" y2="1081.5" stroke="#262626" stroke-width="1.1"/>
<line x1="1005.4" y1="1081.5" x2="1000.9" y2="1081.5" stroke="#262626" stroke-width="1.1"/>
<line x1="138.4" y1="1078.6" x2="142.9" y2="1078.6" stroke="#262626" stroke-width="1.1"/>
<line x1="1005.4" y1="1078.6" x2="1000.9" y2="1078.6" stroke="#262626" stroke-width="1.1"/>
<line x1="138.4" y1="1076.1" x2="142.9" y2="1076.1" stroke="#262626" stroke-width="1.1"/>
<line x1="1005.4" y1="1076.1" x2="1000.9" y2="1076.1" stroke="#262626" stroke-width="1.1"/>
<polyline points="138.4,1075 205.1,1123.6 271.8,1172.3 338.5,1172.3 405.2,1172.3 471.9,1172.3 538.6,1172.3 605.2,1172.3 671.9,1172.3 738.6,1172.3 805.3,1172.3 872,1172.3 938.7,1221.3 1005.4,1221.3" fill="none" stroke="#0072bd" stroke-width="5" stroke-linejoin="round"/>
<text x="133.8" y="1135" font-size="21" text-anchor="end" fill="#262626">10<tspan font-size="16" dy="-10.5">-4</tspan></text>
<text x="133.8" y="1233.3" font-size="21" text-anchor="end" fill="#262626">10<tspan font-size="16" dy="-10.5">-6</tspan></text>
<text x="571.8" y="1065" font-size="23.3" text-anchor="middle" font-weight="400" fill="#000" textLength="252.5" lengthAdjust="spacingAndGlyphs">Mu = 1e-06, at epoch 13</text>
<text transform="translate(84.5,1148) rotate(-90)" font-size="23.3" text-anchor="middle" fill="#262626">mu</text>
<rect x="138.4" y="1280.7" width="867" height="147.1" fill="#fff" stroke="#262626" stroke-width="1.3"/>
<line x1="271.8" y1="1427.8" x2="271.8" y2="1419.8" stroke="#262626" stroke-width="1.3"/>
<line x1="271.8" y1="1280.7" x2="271.8" y2="1288.7" stroke="#262626" stroke-width="1.3"/>
<line x1="405.2" y1="1427.8" x2="405.2" y2="1419.8" stroke="#262626" stroke-width="1.3"/>
<line x1="405.2" y1="1280.7" x2="405.2" y2="1288.7" stroke="#262626" stroke-width="1.3"/>
<line x1="538.6" y1="1427.8" x2="538.6" y2="1419.8" stroke="#262626" stroke-width="1.3"/>
<line x1="538.6" y1="1280.7" x2="538.6" y2="1288.7" stroke="#262626" stroke-width="1.3"/>
<line x1="671.9" y1="1427.8" x2="671.9" y2="1419.8" stroke="#262626" stroke-width="1.3"/>
<line x1="671.9" y1="1280.7" x2="671.9" y2="1288.7" stroke="#262626" stroke-width="1.3"/>
<line x1="805.3" y1="1427.8" x2="805.3" y2="1419.8" stroke="#262626" stroke-width="1.3"/>
<line x1="805.3" y1="1280.7" x2="805.3" y2="1288.7" stroke="#262626" stroke-width="1.3"/>
<line x1="938.7" y1="1427.8" x2="938.7" y2="1419.8" stroke="#262626" stroke-width="1.3"/>
<line x1="938.7" y1="1280.7" x2="938.7" y2="1288.7" stroke="#262626" stroke-width="1.3"/>
<line x1="138.4" y1="1378.8" x2="146.4" y2="1378.8" stroke="#262626" stroke-width="1.2"/>
<line x1="1005.4" y1="1378.8" x2="997.4" y2="1378.8" stroke="#262626" stroke-width="1.2"/>
<line x1="138.4" y1="1329.7" x2="146.4" y2="1329.7" stroke="#262626" stroke-width="1.2"/>
<line x1="1005.4" y1="1329.7" x2="997.4" y2="1329.7" stroke="#262626" stroke-width="1.2"/>
<text x="133.5" y="1435.3" font-size="21" text-anchor="end" font-weight="400" fill="#262626">0</text>
<text x="133.5" y="1386.3" font-size="21" text-anchor="end" font-weight="400" fill="#262626">2</text>
<text x="133.5" y="1337.2" font-size="21" text-anchor="end" font-weight="400" fill="#262626">4</text>
<text x="133.5" y="1288.2" font-size="21" text-anchor="end" font-weight="400" fill="#262626">6</text>
<text x="138.4" y="1454" font-size="21" text-anchor="middle" font-weight="400" fill="#262626">0</text>
<text x="271.8" y="1454" font-size="21" text-anchor="middle" font-weight="400" fill="#262626">2</text>
<text x="405.2" y="1454" font-size="21" text-anchor="middle" font-weight="400" fill="#262626">4</text>
<text x="538.6" y="1454" font-size="21" text-anchor="middle" font-weight="400" fill="#262626">6</text>
<text x="671.9" y="1454" font-size="21" text-anchor="middle" font-weight="400" fill="#262626">8</text>
<text x="805.3" y="1454" font-size="21" text-anchor="middle" font-weight="400" fill="#262626">10</text>
<text x="938.7" y="1454" font-size="21" text-anchor="middle" font-weight="400" fill="#262626">12</text>
<path d="M138.4 1415.8 L146.7 1427.8 L138.4 1439.8 L130.1 1427.8 Z" fill="#ff0000" stroke="#1f5fa8" stroke-width="2.6"/>
<path d="M205.1 1415.8 L213.4 1427.8 L205.1 1439.8 L196.8 1427.8 Z" fill="#ff0000" stroke="#1f5fa8" stroke-width="2.6"/>
<path d="M271.8 1415.8 L280.1 1427.8 L271.8 1439.8 L263.5 1427.8 Z" fill="#ff0000" stroke="#1f5fa8" stroke-width="2.6"/>
<path d="M338.5 1415.8 L346.8 1427.8 L338.5 1439.8 L330.2 1427.8 Z" fill="#ff0000" stroke="#1f5fa8" stroke-width="2.6"/>
<path d="M405.2 1415.8 L413.5 1427.8 L405.2 1439.8 L396.9 1427.8 Z" fill="#ff0000" stroke="#1f5fa8" stroke-width="2.6"/>
<path d="M471.9 1415.8 L480.2 1427.8 L471.9 1439.8 L463.6 1427.8 Z" fill="#ff0000" stroke="#1f5fa8" stroke-width="2.6"/>
<path d="M538.6 1415.8 L546.9 1427.8 L538.6 1439.8 L530.3 1427.8 Z" fill="#ff0000" stroke="#1f5fa8" stroke-width="2.6"/>
<path d="M605.2 1415.8 L613.5 1427.8 L605.2 1439.8 L596.9 1427.8 Z" fill="#ff0000" stroke="#1f5fa8" stroke-width="2.6"/>
<path d="M671.9 1391.3 L680.2 1403.3 L671.9 1415.3 L663.6 1403.3 Z" fill="#ff0000" stroke="#1f5fa8" stroke-width="2.6"/>
<path d="M738.6 1366.8 L746.9 1378.8 L738.6 1390.8 L730.3 1378.8 Z" fill="#ff0000" stroke="#1f5fa8" stroke-width="2.6"/>
<path d="M805.3 1342.2 L813.6 1354.2 L805.3 1366.2 L797 1354.2 Z" fill="#ff0000" stroke="#1f5fa8" stroke-width="2.6"/>
<path d="M872 1317.7 L880.3 1329.7 L872 1341.7 L863.7 1329.7 Z" fill="#ff0000" stroke="#1f5fa8" stroke-width="2.6"/>
<path d="M938.7 1293.2 L947 1305.2 L938.7 1317.2 L930.4 1305.2 Z" fill="#ff0000" stroke="#1f5fa8" stroke-width="2.6"/>
<path d="M1005.4 1268.7 L1013.7 1280.7 L1005.4 1292.7 L997.1 1280.7 Z" fill="#ff0000" stroke="#1f5fa8" stroke-width="2.6"/>
<text x="571.8" y="1271.7" font-size="23.3" text-anchor="middle" font-weight="400" fill="#000">Validation Checks = 6, at epoch 13</text>
<text x="572" y="1482.6" font-size="23.3" text-anchor="middle" font-weight="400" fill="#262626">13 Epochs</text>
<text transform="translate(114.4,1354.3) rotate(-90)" font-size="23.3" text-anchor="middle" fill="#262626">val fail</text>
<rect x="1297.2" y="209.2" width="468.3" height="468.7" fill="#fff"/>
<line x1="1413.7" y1="677.9" x2="1413.7" y2="672.4" stroke="#262626" stroke-width="1.2"/>
<line x1="1413.7" y1="209.2" x2="1413.7" y2="214.7" stroke="#262626" stroke-width="1.2"/>
<line x1="1297.2" y1="561.4" x2="1302.7" y2="561.4" stroke="#262626" stroke-width="1.2"/>
<line x1="1765.5" y1="561.4" x2="1760" y2="561.4" stroke="#262626" stroke-width="1.2"/>
<line x1="1530.2" y1="677.9" x2="1530.2" y2="672.4" stroke="#262626" stroke-width="1.2"/>
<line x1="1530.2" y1="209.2" x2="1530.2" y2="214.7" stroke="#262626" stroke-width="1.2"/>
<line x1="1297.2" y1="444.9" x2="1302.7" y2="444.9" stroke="#262626" stroke-width="1.2"/>
<line x1="1765.5" y1="444.9" x2="1760" y2="444.9" stroke="#262626" stroke-width="1.2"/>
<line x1="1646.7" y1="677.9" x2="1646.7" y2="672.4" stroke="#262626" stroke-width="1.2"/>
<line x1="1646.7" y1="209.2" x2="1646.7" y2="214.7" stroke="#262626" stroke-width="1.2"/>
<line x1="1297.2" y1="328.4" x2="1302.7" y2="328.4" stroke="#262626" stroke-width="1.2"/>
<line x1="1765.5" y1="328.4" x2="1760" y2="328.4" stroke="#262626" stroke-width="1.2"/>
<line x1="1763.2" y1="677.9" x2="1763.2" y2="672.4" stroke="#262626" stroke-width="1.2"/>
<line x1="1763.2" y1="209.2" x2="1763.2" y2="214.7" stroke="#262626" stroke-width="1.2"/>
<line x1="1297.2" y1="211.9" x2="1302.7" y2="211.9" stroke="#262626" stroke-width="1.2"/>
<line x1="1765.5" y1="211.9" x2="1760" y2="211.9" stroke="#262626" stroke-width="1.2"/>
<rect x="1297.2" y="209.2" width="468.3" height="468.7" fill="none" stroke="#262626" stroke-width="1.3"/>
<line x1="1297.2" y1="677.9" x2="1763.2" y2="211.9" stroke="#000" stroke-width="1.2" stroke-dasharray="1.2 2.6"/>
<line x1="1297.2" y1="672.5" x2="1763.2" y2="215.8" stroke="#0000e6" stroke-width="5" stroke-linecap="butt"/>
<g fill="none" stroke="#000" stroke-width="1.6">
<circle cx="1297.2" cy="676.7" r="7.2"/>
<circle cx="1297.2" cy="682.6" r="7.2"/>
<circle cx="1762" cy="211.9" r="7.2"/>
<circle cx="1763.2" cy="210.5" r="7.2"/>
<circle cx="1745.3" cy="218" r="7.2"/>
<circle cx="1317.5" cy="640.2" r="7.2"/>
<circle cx="1335.2" cy="629.9" r="7.2"/>
<circle cx="1357.1" cy="631.5" r="7.2"/>
<circle cx="1347.8" cy="599.6" r="7.2"/>
<circle cx="1349.4" cy="605.7" r="7.2"/>
<circle cx="1345.2" cy="611.5" r="7.2"/>
<circle cx="1352" cy="602.2" r="7.2"/>
<circle cx="1373.9" cy="623.1" r="7.2"/>
<circle cx="1380.6" cy="614.8" r="7.2"/>
<circle cx="1377.1" cy="608" r="7.2"/>
<circle cx="1383.9" cy="611.5" r="7.2"/>
<circle cx="1389" cy="599.6" r="7.2"/>
<circle cx="1392.3" cy="593.8" r="7.2"/>
<circle cx="1397.4" cy="591.2" r="7.2"/>
<circle cx="1370.6" cy="582.8" r="7.2"/>
<circle cx="1373.9" cy="586.1" r="7.2"/>
<circle cx="1417.7" cy="582.8" r="7.2"/>
<circle cx="1434.4" cy="569.3" r="7.2"/>
<circle cx="1404.1" cy="579.6" r="7.2"/>
<circle cx="1416" cy="523.9" r="7.2"/>
<circle cx="1429.5" cy="519" r="7.2"/>
<circle cx="1441.2" cy="510.6" r="7.2"/>
<circle cx="1449.6" cy="498.7" r="7.2"/>
<circle cx="1488.5" cy="510.6" r="7.2"/>
<circle cx="1466.6" cy="529" r="7.2"/>
<circle cx="1458.2" cy="544.2" r="7.2"/>
<circle cx="1522" cy="468.4" r="7.2"/>
<circle cx="1525.5" cy="465.2" r="7.2"/>
<circle cx="1517.2" cy="478.5" r="7.2"/>
<circle cx="1508.5" cy="483.6" r="7.2"/>
<circle cx="1543.9" cy="448.2" r="7.2"/>
<circle cx="1718.9" cy="242.2" r="7.2"/>
<circle cx="1725.9" cy="244.5" r="7.2"/>
<circle cx="1730.6" cy="245.7" r="7.2"/>
<circle cx="1707.3" cy="256.2" r="7.2"/>
<circle cx="1711.9" cy="253.8" r="7.2"/>
<circle cx="1718.9" cy="266.7" r="7.2"/>
<circle cx="1583.1" cy="371.7" r="7.2"/>
<circle cx="1575.6" cy="390.6" r="7.2"/>
<circle cx="1572.1" cy="403" r="7.2"/>
<circle cx="1552.8" cy="399.9" r="7.2"/>
<circle cx="1562.4" cy="407.6" r="7.2"/>
<circle cx="1550.9" cy="424.4" r="7.2"/>
<circle cx="1571.7" cy="428.4" r="7.2"/>
<circle cx="1556.8" cy="432.1" r="7.2"/>
<circle cx="1543.5" cy="448.9" r="7.2"/>
<circle cx="1537.2" cy="430.2" r="7.2"/>
<circle cx="1553.5" cy="398.3" r="7.2"/>
<circle cx="1558.2" cy="437.9" r="7.2"/>
<circle cx="1375.1" cy="618.3" r="7.2"/>
<circle cx="1375.5" cy="604.5" r="7.2"/>
<circle cx="1376.6" cy="600.4" r="7.2"/>
<circle cx="1376.8" cy="598" r="7.2"/>
<circle cx="1380.1" cy="590.1" r="7.2"/>
<circle cx="1370.9" cy="604.7" r="7.2"/>
<circle cx="1365" cy="600.2" r="7.2"/>
<circle cx="1363.6" cy="622.4" r="7.2"/>
<circle cx="1389.9" cy="566.7" r="7.2"/>
<circle cx="1379.7" cy="595" r="7.2"/>
<circle cx="1394.5" cy="564.3" r="7.2"/>
<circle cx="1389.1" cy="581.3" r="7.2"/>
<circle cx="1396.4" cy="575.2" r="7.2"/>
<circle cx="1411.7" cy="557.7" r="7.2"/>
<circle cx="1410.4" cy="554.6" r="7.2"/>
<circle cx="1421.5" cy="561.2" r="7.2"/>
<circle cx="1413.7" cy="564.4" r="7.2"/>
<circle cx="1401.3" cy="580.4" r="7.2"/>
<circle cx="1441.5" cy="511" r="7.2"/>
<circle cx="1425.3" cy="547.5" r="7.2"/>
<circle cx="1403.4" cy="567.3" r="7.2"/>
<circle cx="1389.7" cy="573.3" r="7.2"/>
<circle cx="1428.6" cy="560.2" r="7.2"/>
<circle cx="1407.4" cy="552.7" r="7.2"/>
<circle cx="1439.3" cy="533" r="7.2"/>
<circle cx="1397.5" cy="574.5" r="7.2"/>
<circle cx="1436.6" cy="564.7" r="7.2"/>
<circle cx="1408" cy="558.4" r="7.2"/>
<circle cx="1389.8" cy="594.2" r="7.2"/>
<circle cx="1400.8" cy="584.2" r="7.2"/>
<circle cx="1390.6" cy="594.4" r="7.2"/>
<circle cx="1428.1" cy="520.7" r="7.2"/>
<circle cx="1392.3" cy="579.1" r="7.2"/>
<circle cx="1389.1" cy="577.6" r="7.2"/>
<circle cx="1430.3" cy="536.2" r="7.2"/>
<circle cx="1410.8" cy="549.1" r="7.2"/>
<circle cx="1396.4" cy="575.9" r="7.2"/>
<circle cx="1421.7" cy="556" r="7.2"/>
<circle cx="1392.3" cy="585.7" r="7.2"/>
<circle cx="1400.8" cy="567.5" r="7.2"/>
<circle cx="1440" cy="529.6" r="7.2"/>
<circle cx="1435.2" cy="545.7" r="7.2"/>
<circle cx="1397.5" cy="590.4" r="7.2"/>
<circle cx="1421.6" cy="537.9" r="7.2"/>
<circle cx="1391.4" cy="573" r="7.2"/>
<circle cx="1400.2" cy="572.1" r="7.2"/>
<circle cx="1428.9" cy="547.6" r="7.2"/>
<circle cx="1389.8" cy="574" r="7.2"/>
<circle cx="1390.8" cy="587.6" r="7.2"/>
<circle cx="1419.4" cy="556.7" r="7.2"/>
<circle cx="1406.5" cy="590.7" r="7.2"/>
<circle cx="1412.8" cy="551.5" r="7.2"/>
<circle cx="1417.9" cy="549.8" r="7.2"/>
<circle cx="1394.4" cy="582.2" r="7.2"/>
<circle cx="1436.5" cy="532.7" r="7.2"/>
<circle cx="1396.4" cy="582.6" r="7.2"/>
<circle cx="1427.1" cy="538.7" r="7.2"/>
<circle cx="1438.9" cy="536.2" r="7.2"/>
<circle cx="1435.1" cy="546.1" r="7.2"/>
<circle cx="1391.5" cy="586.7" r="7.2"/>
<circle cx="1387.9" cy="576.1" r="7.2"/>
<circle cx="1425.1" cy="548.9" r="7.2"/>
<circle cx="1400.1" cy="565.3" r="7.2"/>
<circle cx="1402.1" cy="582.3" r="7.2"/>
<circle cx="1395.6" cy="576.8" r="7.2"/>
<circle cx="1398.5" cy="577.1" r="7.2"/>
<circle cx="1417" cy="546.4" r="7.2"/>
<circle cx="1401.4" cy="581.9" r="7.2"/>
<circle cx="1437" cy="534.9" r="7.2"/>
<circle cx="1400.8" cy="569.1" r="7.2"/>
<circle cx="1410.7" cy="555.2" r="7.2"/>
<circle cx="1406.4" cy="563.1" r="7.2"/>
<circle cx="1417.7" cy="547.6" r="7.2"/>
<circle cx="1435.6" cy="529.6" r="7.2"/>
<circle cx="1440.6" cy="540.9" r="7.2"/>
<circle cx="1418.4" cy="567.1" r="7.2"/>
<circle cx="1449.2" cy="521.6" r="7.2"/>
<circle cx="1490.4" cy="482.7" r="7.2"/>
<circle cx="1479.2" cy="492" r="7.2"/>
<circle cx="1475.8" cy="498" r="7.2"/>
<circle cx="1467.5" cy="506.7" r="7.2"/>
<circle cx="1495.2" cy="487.6" r="7.2"/>
<circle cx="1445.7" cy="543.4" r="7.2"/>
<circle cx="1489.9" cy="488.5" r="7.2"/>
<circle cx="1481.2" cy="497.6" r="7.2"/>
<circle cx="1490.7" cy="500.7" r="7.2"/>
<circle cx="1460.5" cy="521.4" r="7.2"/>
<circle cx="1488.3" cy="505.9" r="7.2"/>
<circle cx="1464" cy="503.7" r="7.2"/>
<circle cx="1472.4" cy="521.1" r="7.2"/>
<circle cx="1475.2" cy="508.3" r="7.2"/>
<circle cx="1474.3" cy="489.6" r="7.2"/>
<circle cx="1446" cy="548" r="7.2"/>
<circle cx="1488.8" cy="510.2" r="7.2"/>
<circle cx="1480.7" cy="505.7" r="7.2"/>
<circle cx="1472.8" cy="489.4" r="7.2"/>
<circle cx="1465.3" cy="505.5" r="7.2"/>
<circle cx="1481.9" cy="495.3" r="7.2"/>
<circle cx="1443.3" cy="539" r="7.2"/>
<circle cx="1454" cy="526" r="7.2"/>
<circle cx="1479.1" cy="508.7" r="7.2"/>
<circle cx="1491" cy="482.3" r="7.2"/>
<circle cx="1455.4" cy="508.6" r="7.2"/>
<circle cx="1478" cy="494.7" r="7.2"/>
<circle cx="1452.5" cy="509.3" r="7.2"/>
<circle cx="1477" cy="476.3" r="7.2"/>
<circle cx="1465.3" cy="500.5" r="7.2"/>
<circle cx="1477.3" cy="501.8" r="7.2"/>
<circle cx="1452.3" cy="537.7" r="7.2"/>
<circle cx="1490.7" cy="474.9" r="7.2"/>
<circle cx="1488.8" cy="495.1" r="7.2"/>
<circle cx="1458.6" cy="505.1" r="7.2"/>
<circle cx="1449" cy="543.7" r="7.2"/>
<circle cx="1487.1" cy="485.9" r="7.2"/>
<circle cx="1479.8" cy="485.5" r="7.2"/>
<circle cx="1450.7" cy="524.6" r="7.2"/>
<circle cx="1465.8" cy="508.4" r="7.2"/>
<circle cx="1463.8" cy="502" r="7.2"/>
<circle cx="1475.2" cy="507.2" r="7.2"/>
<circle cx="1486.6" cy="486.5" r="7.2"/>
<circle cx="1494.3" cy="483.3" r="7.2"/>
<circle cx="1443.3" cy="528.1" r="7.2"/>
<circle cx="1488.4" cy="469.2" r="7.2"/>
<circle cx="1472.2" cy="496.7" r="7.2"/>
<circle cx="1458.2" cy="514.2" r="7.2"/>
<circle cx="1448.9" cy="525.8" r="7.2"/>
<circle cx="1466" cy="487.5" r="7.2"/>
<circle cx="1454.4" cy="515.4" r="7.2"/>
<circle cx="1500.2" cy="461" r="7.2"/>
<circle cx="1510.9" cy="459.3" r="7.2"/>
<circle cx="1517.3" cy="466.3" r="7.2"/>
<circle cx="1528.7" cy="459.6" r="7.2"/>
<circle cx="1519.2" cy="451.6" r="7.2"/>
<circle cx="1501.5" cy="462.2" r="7.2"/>
<circle cx="1495.6" cy="492.6" r="7.2"/>
<circle cx="1501.5" cy="469.7" r="7.2"/>
<circle cx="1504.8" cy="477.2" r="7.2"/>
<circle cx="1513.4" cy="448.7" r="7.2"/>
<circle cx="1583.8" cy="391.3" r="7.2"/>
<circle cx="1589.1" cy="391.7" r="7.2"/>
<circle cx="1592.6" cy="364" r="7.2"/>
<circle cx="1587" cy="378.6" r="7.2"/>
<circle cx="1569.1" cy="417" r="7.2"/>
<circle cx="1592.7" cy="376.8" r="7.2"/>
<circle cx="1607.7" cy="380.6" r="7.2"/>
<circle cx="1621.4" cy="359" r="7.2"/>
<circle cx="1626.2" cy="358.8" r="7.2"/>
<circle cx="1602.1" cy="368.2" r="7.2"/>
<circle cx="1619" cy="349.5" r="7.2"/>
<circle cx="1618.9" cy="365.1" r="7.2"/>
<circle cx="1602.4" cy="352.1" r="7.2"/>
<circle cx="1627.3" cy="359.6" r="7.2"/>
<circle cx="1613" cy="358.4" r="7.2"/>
<circle cx="1625.1" cy="355.3" r="7.2"/>
<circle cx="1623.4" cy="352" r="7.2"/>
<circle cx="1609.8" cy="360.6" r="7.2"/>
<circle cx="1613.4" cy="358.8" r="7.2"/>
<circle cx="1596.4" cy="385.9" r="7.2"/>
<circle cx="1621.8" cy="338.1" r="7.2"/>
<circle cx="1601.1" cy="366.2" r="7.2"/>
<circle cx="1606.4" cy="365.7" r="7.2"/>
<circle cx="1600.3" cy="377" r="7.2"/>
<circle cx="1612.3" cy="363.5" r="7.2"/>
<circle cx="1617.9" cy="370.8" r="7.2"/>
<circle cx="1626.3" cy="367.1" r="7.2"/>
<circle cx="1598.2" cy="373.7" r="7.2"/>
<circle cx="1602.7" cy="377" r="7.2"/>
<circle cx="1619.2" cy="355.2" r="7.2"/>
<circle cx="1616.3" cy="372.5" r="7.2"/>
<circle cx="1613.7" cy="361.8" r="7.2"/>
<circle cx="1637.5" cy="347.8" r="7.2"/>
<circle cx="1655.3" cy="308" r="7.2"/>
<circle cx="1634.4" cy="326.6" r="7.2"/>
<circle cx="1643.9" cy="347.2" r="7.2"/>
<circle cx="1645.4" cy="325.4" r="7.2"/>
<circle cx="1643.3" cy="320.9" r="7.2"/>
<circle cx="1646.4" cy="306.3" r="7.2"/>
<circle cx="1643.7" cy="326.4" r="7.2"/>
<circle cx="1640.2" cy="330.3" r="7.2"/>
<circle cx="1642.9" cy="340.8" r="7.2"/>
<circle cx="1649" cy="315.7" r="7.2"/>
<circle cx="1640.6" cy="329.1" r="7.2"/>
<circle cx="1657" cy="311.3" r="7.2"/>
<circle cx="1642.4" cy="334.4" r="7.2"/>
<circle cx="1631.9" cy="355.4" r="7.2"/>
<circle cx="1655.3" cy="312.7" r="7.2"/>
<circle cx="1642.5" cy="333.5" r="7.2"/>
<circle cx="1646.8" cy="322.3" r="7.2"/>
<circle cx="1656.1" cy="308.3" r="7.2"/>
<circle cx="1628.8" cy="334.5" r="7.2"/>
<circle cx="1633.9" cy="337.9" r="7.2"/>
<circle cx="1637.8" cy="323.6" r="7.2"/>
<circle cx="1638.8" cy="337.7" r="7.2"/>
<circle cx="1650.2" cy="326.4" r="7.2"/>
<circle cx="1631.8" cy="348" r="7.2"/>
<circle cx="1634" cy="340" r="7.2"/>
<circle cx="1644.1" cy="337" r="7.2"/>
<circle cx="1640.6" cy="330.1" r="7.2"/>
<circle cx="1644.1" cy="326.8" r="7.2"/>
<circle cx="1647.2" cy="322.1" r="7.2"/>
<circle cx="1647.4" cy="342.1" r="7.2"/>
<circle cx="1646.6" cy="330.2" r="7.2"/>
<circle cx="1654" cy="318.6" r="7.2"/>
<circle cx="1652.6" cy="308.1" r="7.2"/>
<circle cx="1689.9" cy="287.7" r="7.2"/>
<circle cx="1690.6" cy="277.7" r="7.2"/>
<circle cx="1666" cy="291.3" r="7.2"/>
<circle cx="1663" cy="311.4" r="7.2"/>
<circle cx="1666.7" cy="308.5" r="7.2"/>
<circle cx="1661.7" cy="318.7" r="7.2"/>
<circle cx="1687.4" cy="300" r="7.2"/>
<circle cx="1662.8" cy="304.6" r="7.2"/>
<circle cx="1672.4" cy="302.6" r="7.2"/>
<circle cx="1665.4" cy="310.3" r="7.2"/>
<circle cx="1682.2" cy="274.2" r="7.2"/>
<circle cx="1662.4" cy="323.1" r="7.2"/>
<circle cx="1676" cy="298" r="7.2"/>
<circle cx="1682.3" cy="301.9" r="7.2"/>
<circle cx="1665" cy="305.8" r="7.2"/>
<circle cx="1659.7" cy="312.8" r="7.2"/>
<circle cx="1677.6" cy="307.4" r="7.2"/>
<circle cx="1663.5" cy="311.7" r="7.2"/>
<circle cx="1664.8" cy="305" r="7.2"/>
<circle cx="1693" cy="266.9" r="7.2"/>
<circle cx="1690.7" cy="281.6" r="7.2"/>
<circle cx="1691.6" cy="281.5" r="7.2"/>
<circle cx="1674.5" cy="299.3" r="7.2"/>
<circle cx="1674.7" cy="307" r="7.2"/>
<circle cx="1676.4" cy="308.1" r="7.2"/>
<circle cx="1658.8" cy="310.6" r="7.2"/>
<circle cx="1682.9" cy="288.9" r="7.2"/>
<circle cx="1674.2" cy="304.5" r="7.2"/>
<circle cx="1684.2" cy="294.9" r="7.2"/>
<circle cx="1664.1" cy="307.1" r="7.2"/>
<circle cx="1676.3" cy="281" r="7.2"/>
<circle cx="1686.4" cy="286.6" r="7.2"/>
<circle cx="1683" cy="284.3" r="7.2"/>
<circle cx="1672.5" cy="310.7" r="7.2"/>
<circle cx="1679.3" cy="318.5" r="7.2"/>
<circle cx="1686.5" cy="288.8" r="7.2"/>
<circle cx="1702.9" cy="260.7" r="7.2"/>
<circle cx="1722.3" cy="260.2" r="7.2"/>
<circle cx="1723.7" cy="266.2" r="7.2"/>
<circle cx="1726.1" cy="239.7" r="7.2"/>
<circle cx="1719.2" cy="254.6" r="7.2"/>
<circle cx="1708.4" cy="280.5" r="7.2"/>
<circle cx="1720.2" cy="248.4" r="7.2"/>
<circle cx="1710.8" cy="261.2" r="7.2"/>
<circle cx="1693.7" cy="288.3" r="7.2"/>
<circle cx="1716.6" cy="249.6" r="7.2"/>
<circle cx="1702" cy="261.7" r="7.2"/>
<circle cx="1705.9" cy="273.3" r="7.2"/>
<circle cx="1717.9" cy="266.5" r="7.2"/>
<circle cx="1707.8" cy="271.5" r="7.2"/>
<circle cx="1730.6" cy="252.9" r="7.2"/>
<circle cx="1721.7" cy="263.6" r="7.2"/>
<circle cx="1729.8" cy="234.6" r="7.2"/>
<circle cx="1720.8" cy="252.9" r="7.2"/>
</g>
<text x="1297.2" y="713.2" font-size="25" text-anchor="middle" font-weight="400" fill="#262626">-1</text>
<text x="1287.2" y="688" font-size="25" text-anchor="end" font-weight="400" fill="#262626">-1</text>
<text x="1413.7" y="713.2" font-size="25" text-anchor="middle" font-weight="400" fill="#262626">-0.5</text>
<text x="1287.2" y="571.5" font-size="25" text-anchor="end" font-weight="400" fill="#262626">-0.5</text>
<text x="1530.2" y="713.2" font-size="25" text-anchor="middle" font-weight="400" fill="#262626">0</text>
<text x="1287.2" y="455" font-size="25" text-anchor="end" font-weight="400" fill="#262626">0</text>
<text x="1646.7" y="713.2" font-size="25" text-anchor="middle" font-weight="400" fill="#262626">0.5</text>
<text x="1287.2" y="338.5" font-size="25" text-anchor="end" font-weight="400" fill="#262626">0.5</text>
<text x="1763.2" y="713.2" font-size="25" text-anchor="middle" font-weight="400" fill="#262626">1</text>
<text x="1287.2" y="222" font-size="25" text-anchor="end" font-weight="400" fill="#262626">1</text>
<text x="1531.3" y="198" font-size="32" text-anchor="middle" font-weight="700" fill="#000">Training: R=0.99359</text>
<text x="1530.2" y="754.9" font-size="32.4" text-anchor="middle" font-weight="700" fill="#262626">Target</text>
<text transform="translate(1229.2,443.5) rotate(-90)" font-size="32" font-weight="700" text-anchor="middle" fill="#262626">Output ~= 0.98*Target + 0.0032</text>
<rect x="1317.5" y="231.5" width="157" height="96" fill="#fff" stroke="#262626" stroke-width="1.3"/>
<circle cx="1365.2" cy="249.7" r="7.5" fill="none" stroke="#000" stroke-width="1.2"/>
<text x="1411.7" y="257.7" font-size="23" text-anchor="start" font-weight="400" fill="#000">Data</text>
<line x1="1325.2" y1="278.8" x2="1405.2" y2="278.8" stroke="#0000e6" stroke-width="5"/>
<text x="1411.7" y="287.7" font-size="23" text-anchor="start" font-weight="400" fill="#000">Fit</text>
<line x1="1325.2" y1="308.9" x2="1405.2" y2="308.9" stroke="#000" stroke-width="1" stroke-dasharray="1 2.5"/>
<text x="1411.7" y="317.7" font-size="23" text-anchor="start" font-weight="400" fill="#000">Y = T</text>
<rect x="1913.4" y="209.2" width="468.3" height="468.7" fill="#fff"/>
<line x1="2029.9" y1="677.9" x2="2029.9" y2="672.4" stroke="#262626" stroke-width="1.2"/>
<line x1="2029.9" y1="209.2" x2="2029.9" y2="214.7" stroke="#262626" stroke-width="1.2"/>
<line x1="1913.4" y1="561.4" x2="1918.9" y2="561.4" stroke="#262626" stroke-width="1.2"/>
<line x1="2381.7" y1="561.4" x2="2376.2" y2="561.4" stroke="#262626" stroke-width="1.2"/>
<line x1="2146.4" y1="677.9" x2="2146.4" y2="672.4" stroke="#262626" stroke-width="1.2"/>
<line x1="2146.4" y1="209.2" x2="2146.4" y2="214.7" stroke="#262626" stroke-width="1.2"/>
<line x1="1913.4" y1="444.9" x2="1918.9" y2="444.9" stroke="#262626" stroke-width="1.2"/>
<line x1="2381.7" y1="444.9" x2="2376.2" y2="444.9" stroke="#262626" stroke-width="1.2"/>
<line x1="2262.9" y1="677.9" x2="2262.9" y2="672.4" stroke="#262626" stroke-width="1.2"/>
<line x1="2262.9" y1="209.2" x2="2262.9" y2="214.7" stroke="#262626" stroke-width="1.2"/>
<line x1="1913.4" y1="328.4" x2="1918.9" y2="328.4" stroke="#262626" stroke-width="1.2"/>
<line x1="2381.7" y1="328.4" x2="2376.2" y2="328.4" stroke="#262626" stroke-width="1.2"/>
<line x1="2379.4" y1="677.9" x2="2379.4" y2="672.4" stroke="#262626" stroke-width="1.2"/>
<line x1="2379.4" y1="209.2" x2="2379.4" y2="214.7" stroke="#262626" stroke-width="1.2"/>
<line x1="1913.4" y1="211.9" x2="1918.9" y2="211.9" stroke="#262626" stroke-width="1.2"/>
<line x1="2381.7" y1="211.9" x2="2376.2" y2="211.9" stroke="#262626" stroke-width="1.2"/>
<rect x="1913.4" y="209.2" width="468.3" height="468.7" fill="none" stroke="#262626" stroke-width="1.3"/>
<line x1="1913.4" y1="677.9" x2="2379.4" y2="211.9" stroke="#000" stroke-width="1.2" stroke-dasharray="1.2 2.6"/>
<line x1="1913.4" y1="670.2" x2="2379.4" y2="218.2" stroke="#00e600" stroke-width="5" stroke-linecap="butt"/>
<g fill="none" stroke="#000" stroke-width="1.6">
<circle cx="2351.4" cy="236.4" r="7.2"/>
<circle cx="2329.2" cy="261.3" r="7.2"/>
<circle cx="2300.8" cy="272.2" r="7.2"/>
<circle cx="2311.3" cy="277.2" r="7.2"/>
<circle cx="2291.8" cy="286.6" r="7.2"/>
<circle cx="2302.7" cy="287.8" r="7.2"/>
<circle cx="2310.5" cy="288.9" r="7.2"/>
<circle cx="2269.6" cy="304.1" r="7.2"/>
<circle cx="2293" cy="309.1" r="7.2"/>
<circle cx="2278.6" cy="319.6" r="7.2"/>
<circle cx="2256.8" cy="320.8" r="7.2"/>
<circle cx="2259.1" cy="324.7" r="7.2"/>
<circle cx="2252.1" cy="331.7" r="7.2"/>
<circle cx="2263.8" cy="332.5" r="7.2"/>
<circle cx="2259.9" cy="339.5" r="7.2"/>
<circle cx="2261.8" cy="342.2" r="7.2"/>
<circle cx="2244.3" cy="350" r="7.2"/>
<circle cx="2250.2" cy="351.9" r="7.2"/>
<circle cx="2221" cy="355" r="7.2"/>
<circle cx="2230.7" cy="357.8" r="7.2"/>
<circle cx="2234.6" cy="362.4" r="7.2"/>
<circle cx="2230.7" cy="366.7" r="7.2"/>
<circle cx="2216.3" cy="373.3" r="7.2"/>
<circle cx="2210.4" cy="384.2" r="7.2"/>
<circle cx="2178.1" cy="404.4" r="7.2"/>
<circle cx="2156.7" cy="431.7" r="7.2"/>
<circle cx="2192.9" cy="425.8" r="7.2"/>
<circle cx="2192.9" cy="429" r="7.2"/>
<circle cx="2143.9" cy="464.7" r="7.2"/>
<circle cx="2133.4" cy="474.5" r="7.2"/>
<circle cx="2133.4" cy="479.5" r="7.2"/>
<circle cx="2110" cy="477.2" r="7.2"/>
<circle cx="2110" cy="479.5" r="7.2"/>
<circle cx="2082.7" cy="488.1" r="7.2"/>
<circle cx="2094.4" cy="491.2" r="7.2"/>
<circle cx="2098.3" cy="499.7" r="7.2"/>
<circle cx="2108.1" cy="499.7" r="7.2"/>
<circle cx="2076.9" cy="514.5" r="7.2"/>
<circle cx="2069.1" cy="519.2" r="7.2"/>
<circle cx="2073" cy="531.6" r="7.2"/>
<circle cx="2065.2" cy="543.3" r="7.2"/>
<circle cx="2047.7" cy="527" r="7.2"/>
<circle cx="2041.9" cy="534.8" r="7.2"/>
<circle cx="2045.8" cy="540.6" r="7.2"/>
<circle cx="2055.5" cy="534.8" r="7.2"/>
<circle cx="2031" cy="537.1" r="7.2"/>
<circle cx="2030.2" cy="558.1" r="7.2"/>
<circle cx="2041.9" cy="556.1" r="7.2"/>
<circle cx="2013.8" cy="555" r="7.2"/>
<circle cx="2010.7" cy="557.3" r="7.2"/>
<circle cx="2016.6" cy="553.4" r="7.2"/>
<circle cx="1991.3" cy="581.4" r="7.2"/>
<circle cx="2008.8" cy="586.1" r="7.2"/>
<circle cx="2022.4" cy="585.3" r="7.2"/>
<circle cx="1979.6" cy="593.9" r="7.2"/>
<circle cx="1979.6" cy="597" r="7.2"/>
<circle cx="1969.8" cy="628.1" r="7.2"/>
<circle cx="2257.9" cy="330.5" r="7.2"/>
<circle cx="2265.7" cy="335.6" r="7.2"/>
<circle cx="2256" cy="326.6" r="7.2"/>
</g>
<text x="1913.4" y="713.2" font-size="25" text-anchor="middle" font-weight="400" fill="#262626">-1</text>
<text x="1903.4" y="688" font-size="25" text-anchor="end" font-weight="400" fill="#262626">-1</text>
<text x="2029.9" y="713.2" font-size="25" text-anchor="middle" font-weight="400" fill="#262626">-0.5</text>
<text x="1903.4" y="571.5" font-size="25" text-anchor="end" font-weight="400" fill="#262626">-0.5</text>
<text x="2146.4" y="713.2" font-size="25" text-anchor="middle" font-weight="400" fill="#262626">0</text>
<text x="1903.4" y="455" font-size="25" text-anchor="end" font-weight="400" fill="#262626">0</text>
<text x="2262.9" y="713.2" font-size="25" text-anchor="middle" font-weight="400" fill="#262626">0.5</text>
<text x="1903.4" y="338.5" font-size="25" text-anchor="end" font-weight="400" fill="#262626">0.5</text>
<text x="2379.4" y="713.2" font-size="25" text-anchor="middle" font-weight="400" fill="#262626">1</text>
<text x="1903.4" y="222" font-size="25" text-anchor="end" font-weight="400" fill="#262626">1</text>
<text x="2147.6" y="198" font-size="32" text-anchor="middle" font-weight="700" fill="#000">Validation: R=0.99313</text>
<text x="2146.4" y="754.9" font-size="32.4" text-anchor="middle" font-weight="700" fill="#262626">Target</text>
<text transform="translate(1845.4,443.5) rotate(-90)" font-size="32" font-weight="700" text-anchor="middle" fill="#262626">Output ~= 0.97*Target + 0.0029</text>
<rect x="1933.7" y="231.5" width="157" height="96" fill="#fff" stroke="#262626" stroke-width="1.3"/>
<circle cx="1981.4" cy="249.7" r="7.5" fill="none" stroke="#000" stroke-width="1.2"/>
<text x="2027.9" y="257.7" font-size="23" text-anchor="start" font-weight="400" fill="#000">Data</text>
<line x1="1941.4" y1="278.8" x2="2021.4" y2="278.8" stroke="#00e600" stroke-width="5"/>
<text x="2027.9" y="287.7" font-size="23" text-anchor="start" font-weight="400" fill="#000">Fit</text>
<line x1="1941.4" y1="308.9" x2="2021.4" y2="308.9" stroke="#000" stroke-width="1" stroke-dasharray="1 2.5"/>
<text x="2027.9" y="317.7" font-size="23" text-anchor="start" font-weight="400" fill="#000">Y = T</text>
<rect x="1297.2" y="872.7" width="468.3" height="468.7" fill="#fff"/>
<line x1="1413.7" y1="1341.4" x2="1413.7" y2="1335.9" stroke="#262626" stroke-width="1.2"/>
<line x1="1413.7" y1="872.7" x2="1413.7" y2="878.2" stroke="#262626" stroke-width="1.2"/>
<line x1="1297.2" y1="1224.9" x2="1302.7" y2="1224.9" stroke="#262626" stroke-width="1.2"/>
<line x1="1765.5" y1="1224.9" x2="1760" y2="1224.9" stroke="#262626" stroke-width="1.2"/>
<line x1="1530.2" y1="1341.4" x2="1530.2" y2="1335.9" stroke="#262626" stroke-width="1.2"/>
<line x1="1530.2" y1="872.7" x2="1530.2" y2="878.2" stroke="#262626" stroke-width="1.2"/>
<line x1="1297.2" y1="1108.4" x2="1302.7" y2="1108.4" stroke="#262626" stroke-width="1.2"/>
<line x1="1765.5" y1="1108.4" x2="1760" y2="1108.4" stroke="#262626" stroke-width="1.2"/>
<line x1="1646.7" y1="1341.4" x2="1646.7" y2="1335.9" stroke="#262626" stroke-width="1.2"/>
<line x1="1646.7" y1="872.7" x2="1646.7" y2="878.2" stroke="#262626" stroke-width="1.2"/>
<line x1="1297.2" y1="991.9" x2="1302.7" y2="991.9" stroke="#262626" stroke-width="1.2"/>
<line x1="1765.5" y1="991.9" x2="1760" y2="991.9" stroke="#262626" stroke-width="1.2"/>
<line x1="1763.2" y1="1341.4" x2="1763.2" y2="1335.9" stroke="#262626" stroke-width="1.2"/>
<line x1="1763.2" y1="872.7" x2="1763.2" y2="878.2" stroke="#262626" stroke-width="1.2"/>
<line x1="1297.2" y1="875.4" x2="1302.7" y2="875.4" stroke="#262626" stroke-width="1.2"/>
<line x1="1765.5" y1="875.4" x2="1760" y2="875.4" stroke="#262626" stroke-width="1.2"/>
<rect x="1297.2" y="872.7" width="468.3" height="468.7" fill="none" stroke="#262626" stroke-width="1.3"/>
<line x1="1297.2" y1="1341.4" x2="1763.2" y2="875.4" stroke="#000" stroke-width="1.2" stroke-dasharray="1.2 2.6"/>
<line x1="1297.2" y1="1332.1" x2="1763.2" y2="880.1" stroke="#e60000" stroke-width="5" stroke-linecap="butt"/>
<g fill="none" stroke="#000" stroke-width="1.6">
<circle cx="1760.9" cy="895.1" r="7.2"/>
<circle cx="1744.8" cy="907.5" r="7.2"/>
<circle cx="1722.8" cy="922.7" r="7.2"/>
<circle cx="1694.3" cy="932.8" r="7.2"/>
<circle cx="1688.4" cy="941.1" r="7.2"/>
<circle cx="1697.5" cy="946.6" r="7.2"/>
<circle cx="1683.8" cy="950.2" r="7.2"/>
<circle cx="1698.9" cy="954.8" r="7.2"/>
<circle cx="1681.5" cy="974.1" r="7.2"/>
<circle cx="1676.9" cy="967.2" r="7.2"/>
<circle cx="1667.7" cy="964.9" r="7.2"/>
<circle cx="1672.3" cy="960.3" r="7.2"/>
<circle cx="1663.1" cy="960.3" r="7.2"/>
<circle cx="1674.6" cy="955.7" r="7.2"/>
<circle cx="1658.5" cy="978.7" r="7.2"/>
<circle cx="1665.4" cy="971.8" r="7.2"/>
<circle cx="1636.9" cy="990.2" r="7.2"/>
<circle cx="1642.5" cy="1006.2" r="7.2"/>
<circle cx="1625.5" cy="1002.6" r="7.2"/>
<circle cx="1621.8" cy="1022.3" r="7.2"/>
<circle cx="1605.7" cy="1020" r="7.2"/>
<circle cx="1622.7" cy="1032.9" r="7.2"/>
<circle cx="1610.3" cy="1031.5" r="7.2"/>
<circle cx="1604.3" cy="1042.1" r="7.2"/>
<circle cx="1596.5" cy="1042.1" r="7.2"/>
<circle cx="1582.8" cy="1043" r="7.2"/>
<circle cx="1575.9" cy="1052.2" r="7.2"/>
<circle cx="1581.4" cy="1061.3" r="7.2"/>
<circle cx="1513.9" cy="1106.3" r="7.2"/>
<circle cx="1500.1" cy="1115.5" r="7.2"/>
<circle cx="1525.4" cy="1124.7" r="7.2"/>
<circle cx="1502.4" cy="1133.9" r="7.2"/>
<circle cx="1501.5" cy="1149.5" r="7.2"/>
<circle cx="1486.4" cy="1161.4" r="7.2"/>
<circle cx="1490.9" cy="1155.5" r="7.2"/>
<circle cx="1470.3" cy="1150.9" r="7.2"/>
<circle cx="1471.2" cy="1157.8" r="7.2"/>
<circle cx="1458.8" cy="1201.4" r="7.2"/>
<circle cx="1456.5" cy="1203.7" r="7.2"/>
<circle cx="1433.6" cy="1187.6" r="7.2"/>
<circle cx="1429" cy="1194.5" r="7.2"/>
<circle cx="1419.8" cy="1200" r="7.2"/>
<circle cx="1415.2" cy="1208.3" r="7.2"/>
<circle cx="1403.7" cy="1215.1" r="7.2"/>
<circle cx="1399.1" cy="1221.1" r="7.2"/>
<circle cx="1395.9" cy="1225.7" r="7.2"/>
<circle cx="1419.8" cy="1235.8" r="7.2"/>
<circle cx="1419.8" cy="1242.7" r="7.2"/>
<circle cx="1378.5" cy="1235.8" r="7.2"/>
<circle cx="1373.9" cy="1244.1" r="7.2"/>
<circle cx="1388.6" cy="1242.7" r="7.2"/>
<circle cx="1394.5" cy="1247.3" r="7.2"/>
<circle cx="1387.6" cy="1258.8" r="7.2"/>
<circle cx="1373" cy="1280.8" r="7.2"/>
<circle cx="1406" cy="1217.4" r="7.2"/>
<circle cx="1392.2" cy="1238.1" r="7.2"/>
<circle cx="1388.6" cy="1256.5" r="7.2"/>
</g>
<text x="1297.2" y="1376.7" font-size="25" text-anchor="middle" font-weight="400" fill="#262626">-1</text>
<text x="1287.2" y="1351.5" font-size="25" text-anchor="end" font-weight="400" fill="#262626">-1</text>
<text x="1413.7" y="1376.7" font-size="25" text-anchor="middle" font-weight="400" fill="#262626">-0.5</text>
<text x="1287.2" y="1235" font-size="25" text-anchor="end" font-weight="400" fill="#262626">-0.5</text>
<text x="1530.2" y="1376.7" font-size="25" text-anchor="middle" font-weight="400" fill="#262626">0</text>
<text x="1287.2" y="1118.5" font-size="25" text-anchor="end" font-weight="400" fill="#262626">0</text>
<text x="1646.7" y="1376.7" font-size="25" text-anchor="middle" font-weight="400" fill="#262626">0.5</text>
<text x="1287.2" y="1002" font-size="25" text-anchor="end" font-weight="400" fill="#262626">0.5</text>
<text x="1763.2" y="1376.7" font-size="25" text-anchor="middle" font-weight="400" fill="#262626">1</text>
<text x="1287.2" y="885.5" font-size="25" text-anchor="end" font-weight="400" fill="#262626">1</text>
<text x="1531.3" y="861.5" font-size="32" text-anchor="middle" font-weight="700" fill="#000">Test: R=0.9934</text>
<text x="1530.2" y="1418.4" font-size="32.4" text-anchor="middle" font-weight="700" fill="#262626">Target</text>
<text transform="translate(1229.2,1107.1) rotate(-90)" font-size="32" font-weight="700" text-anchor="middle" fill="#262626">Output ~= 0.97*Target + 0.0099</text>
<rect x="1317.5" y="895" width="157" height="96" fill="#fff" stroke="#262626" stroke-width="1.3"/>
<circle cx="1365.2" cy="913.2" r="7.5" fill="none" stroke="#000" stroke-width="1.2"/>
<text x="1411.7" y="921.2" font-size="23" text-anchor="start" font-weight="400" fill="#000">Data</text>
<line x1="1325.2" y1="942.3" x2="1405.2" y2="942.3" stroke="#e60000" stroke-width="5"/>
<text x="1411.7" y="951.2" font-size="23" text-anchor="start" font-weight="400" fill="#000">Fit</text>
<line x1="1325.2" y1="972.4" x2="1405.2" y2="972.4" stroke="#000" stroke-width="1" stroke-dasharray="1 2.5"/>
<text x="1411.7" y="981.2" font-size="23" text-anchor="start" font-weight="400" fill="#000">Y = T</text>
<rect x="1913" y="872.5" width="468.3" height="468.7" fill="#fff"/>
<line x1="2029.5" y1="1341.2" x2="2029.5" y2="1335.7" stroke="#262626" stroke-width="1.2"/>
<line x1="2029.5" y1="872.5" x2="2029.5" y2="878" stroke="#262626" stroke-width="1.2"/>
<line x1="1913" y1="1224.7" x2="1918.5" y2="1224.7" stroke="#262626" stroke-width="1.2"/>
<line x1="2381.3" y1="1224.7" x2="2375.8" y2="1224.7" stroke="#262626" stroke-width="1.2"/>
<line x1="2146" y1="1341.2" x2="2146" y2="1335.7" stroke="#262626" stroke-width="1.2"/>
<line x1="2146" y1="872.5" x2="2146" y2="878" stroke="#262626" stroke-width="1.2"/>
<line x1="1913" y1="1108.2" x2="1918.5" y2="1108.2" stroke="#262626" stroke-width="1.2"/>
<line x1="2381.3" y1="1108.2" x2="2375.8" y2="1108.2" stroke="#262626" stroke-width="1.2"/>
<line x1="2262.5" y1="1341.2" x2="2262.5" y2="1335.7" stroke="#262626" stroke-width="1.2"/>
<line x1="2262.5" y1="872.5" x2="2262.5" y2="878" stroke="#262626" stroke-width="1.2"/>
<line x1="1913" y1="991.7" x2="1918.5" y2="991.7" stroke="#262626" stroke-width="1.2"/>
<line x1="2381.3" y1="991.7" x2="2375.8" y2="991.7" stroke="#262626" stroke-width="1.2"/>
<line x1="2379" y1="1341.2" x2="2379" y2="1335.7" stroke="#262626" stroke-width="1.2"/>
<line x1="2379" y1="872.5" x2="2379" y2="878" stroke="#262626" stroke-width="1.2"/>
<line x1="1913" y1="875.2" x2="1918.5" y2="875.2" stroke="#262626" stroke-width="1.2"/>
<line x1="2381.3" y1="875.2" x2="2375.8" y2="875.2" stroke="#262626" stroke-width="1.2"/>
<rect x="1913" y="872.5" width="468.3" height="468.7" fill="none" stroke="#262626" stroke-width="1.3"/>
<line x1="1913" y1="1341.2" x2="2379" y2="875.2" stroke="#000" stroke-width="1.2" stroke-dasharray="1.2 2.6"/>
<line x1="1913" y1="1335.6" x2="2379" y2="878.9" stroke="#666666" stroke-width="5" stroke-linecap="butt"/>
<g fill="none" stroke="#000" stroke-width="1.6">
<circle cx="1913" cy="1340" r="7.2"/>
<circle cx="1913" cy="1345.9" r="7.2"/>
<circle cx="2377.8" cy="875.2" r="7.2"/>
<circle cx="2379" cy="873.8" r="7.2"/>
<circle cx="2361.1" cy="881.3" r="7.2"/>
<circle cx="1933.3" cy="1303.5" r="7.2"/>
<circle cx="1951" cy="1293.2" r="7.2"/>
<circle cx="1972.9" cy="1294.8" r="7.2"/>
<circle cx="1963.6" cy="1262.9" r="7.2"/>
<circle cx="1965.2" cy="1269" r="7.2"/>
<circle cx="1961" cy="1274.8" r="7.2"/>
<circle cx="1967.8" cy="1265.5" r="7.2"/>
<circle cx="1989.7" cy="1286.4" r="7.2"/>
<circle cx="1996.4" cy="1278.1" r="7.2"/>
<circle cx="1992.9" cy="1271.3" r="7.2"/>
<circle cx="1999.7" cy="1274.8" r="7.2"/>
<circle cx="2004.8" cy="1262.9" r="7.2"/>
<circle cx="2008.1" cy="1257.1" r="7.2"/>
<circle cx="2013.2" cy="1254.5" r="7.2"/>
<circle cx="1986.4" cy="1246.1" r="7.2"/>
<circle cx="1989.7" cy="1249.4" r="7.2"/>
<circle cx="2033.5" cy="1246.1" r="7.2"/>
<circle cx="2050.2" cy="1232.6" r="7.2"/>
<circle cx="2019.9" cy="1242.9" r="7.2"/>
<circle cx="2031.8" cy="1187.2" r="7.2"/>
<circle cx="2045.3" cy="1182.3" r="7.2"/>
<circle cx="2057" cy="1173.9" r="7.2"/>
<circle cx="2065.4" cy="1162" r="7.2"/>
<circle cx="2104.3" cy="1173.9" r="7.2"/>
<circle cx="2082.4" cy="1192.3" r="7.2"/>
<circle cx="2074" cy="1207.5" r="7.2"/>
<circle cx="2137.8" cy="1131.7" r="7.2"/>
<circle cx="2141.3" cy="1128.5" r="7.2"/>
<circle cx="2133" cy="1141.8" r="7.2"/>
<circle cx="2124.3" cy="1146.9" r="7.2"/>
<circle cx="2159.7" cy="1111.5" r="7.2"/>
<circle cx="2334.7" cy="905.5" r="7.2"/>
<circle cx="2341.7" cy="907.8" r="7.2"/>
<circle cx="2346.4" cy="909" r="7.2"/>
<circle cx="2323.1" cy="919.5" r="7.2"/>
<circle cx="2327.7" cy="917.1" r="7.2"/>
<circle cx="2334.7" cy="930" r="7.2"/>
<circle cx="2198.9" cy="1035" r="7.2"/>
<circle cx="2191.4" cy="1053.9" r="7.2"/>
<circle cx="2187.9" cy="1066.3" r="7.2"/>
<circle cx="2168.6" cy="1063.2" r="7.2"/>
<circle cx="2178.2" cy="1070.9" r="7.2"/>
<circle cx="2166.7" cy="1087.7" r="7.2"/>
<circle cx="2187.5" cy="1091.7" r="7.2"/>
<circle cx="2172.6" cy="1095.4" r="7.2"/>
<circle cx="2159.3" cy="1112.2" r="7.2"/>
<circle cx="2153" cy="1093.5" r="7.2"/>
<circle cx="2169.3" cy="1061.6" r="7.2"/>
<circle cx="2174" cy="1101.2" r="7.2"/>
<circle cx="1990.9" cy="1281.6" r="7.2"/>
<circle cx="1991.3" cy="1267.8" r="7.2"/>
<circle cx="1992.4" cy="1263.7" r="7.2"/>
<circle cx="1992.6" cy="1261.3" r="7.2"/>
<circle cx="1995.9" cy="1253.4" r="7.2"/>
<circle cx="1986.7" cy="1268" r="7.2"/>
<circle cx="1980.8" cy="1263.5" r="7.2"/>
<circle cx="1979.4" cy="1285.7" r="7.2"/>
<circle cx="2005.7" cy="1230" r="7.2"/>
<circle cx="1995.5" cy="1258.3" r="7.2"/>
<circle cx="2010.3" cy="1227.6" r="7.2"/>
<circle cx="2004.9" cy="1244.6" r="7.2"/>
<circle cx="2012.2" cy="1238.5" r="7.2"/>
<circle cx="2027.5" cy="1221" r="7.2"/>
<circle cx="2026.2" cy="1217.9" r="7.2"/>
<circle cx="2037.3" cy="1224.5" r="7.2"/>
<circle cx="2029.5" cy="1227.7" r="7.2"/>
<circle cx="2017.1" cy="1243.7" r="7.2"/>
<circle cx="2057.3" cy="1174.3" r="7.2"/>
<circle cx="2041.1" cy="1210.8" r="7.2"/>
<circle cx="2019.2" cy="1230.6" r="7.2"/>
<circle cx="2005.5" cy="1236.6" r="7.2"/>
<circle cx="2044.4" cy="1223.5" r="7.2"/>
<circle cx="2023.2" cy="1216" r="7.2"/>
<circle cx="2055.1" cy="1196.3" r="7.2"/>
<circle cx="2013.3" cy="1237.8" r="7.2"/>
<circle cx="2052.4" cy="1228" r="7.2"/>
<circle cx="2023.8" cy="1221.7" r="7.2"/>
<circle cx="2005.6" cy="1257.5" r="7.2"/>
<circle cx="2016.6" cy="1247.5" r="7.2"/>
<circle cx="2006.4" cy="1257.7" r="7.2"/>
<circle cx="2043.9" cy="1184" r="7.2"/>
<circle cx="2008.1" cy="1242.4" r="7.2"/>
<circle cx="2004.9" cy="1240.9" r="7.2"/>
<circle cx="2046.1" cy="1199.5" r="7.2"/>
<circle cx="2026.6" cy="1212.4" r="7.2"/>
<circle cx="2012.2" cy="1239.2" r="7.2"/>
<circle cx="2037.5" cy="1219.3" r="7.2"/>
<circle cx="2008.1" cy="1249" r="7.2"/>
<circle cx="2016.6" cy="1230.8" r="7.2"/>
<circle cx="2055.8" cy="1192.9" r="7.2"/>
<circle cx="2051" cy="1209" r="7.2"/>
<circle cx="2013.3" cy="1253.7" r="7.2"/>
<circle cx="2037.4" cy="1201.2" r="7.2"/>
<circle cx="2007.2" cy="1236.3" r="7.2"/>
<circle cx="2016" cy="1235.4" r="7.2"/>
<circle cx="2044.7" cy="1210.9" r="7.2"/>
<circle cx="2005.6" cy="1237.3" r="7.2"/>
<circle cx="2006.6" cy="1250.9" r="7.2"/>
<circle cx="2035.2" cy="1220" r="7.2"/>
<circle cx="2022.3" cy="1254" r="7.2"/>
<circle cx="2028.6" cy="1214.8" r="7.2"/>
<circle cx="2033.7" cy="1213.1" r="7.2"/>
<circle cx="2010.2" cy="1245.5" r="7.2"/>
<circle cx="2052.3" cy="1196" r="7.2"/>
<circle cx="2012.2" cy="1245.9" r="7.2"/>
<circle cx="2042.9" cy="1202" r="7.2"/>
<circle cx="2054.7" cy="1199.5" r="7.2"/>
<circle cx="2050.9" cy="1209.4" r="7.2"/>
<circle cx="2007.3" cy="1250" r="7.2"/>
<circle cx="2003.7" cy="1239.4" r="7.2"/>
<circle cx="2040.9" cy="1212.2" r="7.2"/>
<circle cx="2015.9" cy="1228.6" r="7.2"/>
<circle cx="2017.9" cy="1245.6" r="7.2"/>
<circle cx="2011.4" cy="1240.1" r="7.2"/>
<circle cx="2014.3" cy="1240.4" r="7.2"/>
<circle cx="2032.8" cy="1209.7" r="7.2"/>
<circle cx="2017.2" cy="1245.2" r="7.2"/>
<circle cx="2052.8" cy="1198.2" r="7.2"/>
<circle cx="2016.6" cy="1232.4" r="7.2"/>
<circle cx="2026.5" cy="1218.5" r="7.2"/>
<circle cx="2022.2" cy="1226.4" r="7.2"/>
<circle cx="2033.5" cy="1210.9" r="7.2"/>
<circle cx="2051.4" cy="1192.9" r="7.2"/>
<circle cx="2056.4" cy="1204.2" r="7.2"/>
<circle cx="2034.2" cy="1230.4" r="7.2"/>
<circle cx="2065" cy="1184.9" r="7.2"/>
<circle cx="2106.2" cy="1146" r="7.2"/>
<circle cx="2095" cy="1155.3" r="7.2"/>
<circle cx="2091.6" cy="1161.3" r="7.2"/>
<circle cx="2083.3" cy="1170" r="7.2"/>
<circle cx="2111" cy="1150.9" r="7.2"/>
<circle cx="2061.5" cy="1206.7" r="7.2"/>
<circle cx="2105.7" cy="1151.8" r="7.2"/>
<circle cx="2097" cy="1160.9" r="7.2"/>
<circle cx="2106.5" cy="1164" r="7.2"/>
<circle cx="2076.3" cy="1184.7" r="7.2"/>
<circle cx="2104.1" cy="1169.2" r="7.2"/>
<circle cx="2079.8" cy="1167" r="7.2"/>
<circle cx="2088.2" cy="1184.4" r="7.2"/>
<circle cx="2091" cy="1171.6" r="7.2"/>
<circle cx="2090.1" cy="1152.9" r="7.2"/>
<circle cx="2061.8" cy="1211.3" r="7.2"/>
<circle cx="2104.6" cy="1173.5" r="7.2"/>
<circle cx="2096.5" cy="1169" r="7.2"/>
<circle cx="2088.6" cy="1152.7" r="7.2"/>
<circle cx="2081.1" cy="1168.8" r="7.2"/>
<circle cx="2097.7" cy="1158.6" r="7.2"/>
<circle cx="2059.1" cy="1202.3" r="7.2"/>
<circle cx="2069.8" cy="1189.3" r="7.2"/>
<circle cx="2094.9" cy="1172" r="7.2"/>
<circle cx="2106.8" cy="1145.6" r="7.2"/>
<circle cx="2071.2" cy="1171.9" r="7.2"/>
<circle cx="2093.8" cy="1158" r="7.2"/>
<circle cx="2068.3" cy="1172.6" r="7.2"/>
<circle cx="2092.8" cy="1139.6" r="7.2"/>
<circle cx="2081.1" cy="1163.8" r="7.2"/>
<circle cx="2093.1" cy="1165.1" r="7.2"/>
<circle cx="2068.1" cy="1201" r="7.2"/>
<circle cx="2106.5" cy="1138.2" r="7.2"/>
<circle cx="2104.6" cy="1158.4" r="7.2"/>
<circle cx="2074.4" cy="1168.4" r="7.2"/>
<circle cx="2064.8" cy="1207" r="7.2"/>
<circle cx="2102.9" cy="1149.2" r="7.2"/>
<circle cx="2095.6" cy="1148.8" r="7.2"/>
<circle cx="2066.5" cy="1187.9" r="7.2"/>
<circle cx="2081.6" cy="1171.7" r="7.2"/>
<circle cx="2079.6" cy="1165.3" r="7.2"/>
<circle cx="2091" cy="1170.5" r="7.2"/>
<circle cx="2102.4" cy="1149.8" r="7.2"/>
<circle cx="2110.1" cy="1146.6" r="7.2"/>
<circle cx="2059.1" cy="1191.4" r="7.2"/>
<circle cx="2104.2" cy="1132.5" r="7.2"/>
<circle cx="2088" cy="1160" r="7.2"/>
<circle cx="2074" cy="1177.5" r="7.2"/>
<circle cx="2064.7" cy="1189.1" r="7.2"/>
<circle cx="2081.8" cy="1150.8" r="7.2"/>
<circle cx="2070.2" cy="1178.7" r="7.2"/>
<circle cx="2116" cy="1124.3" r="7.2"/>
<circle cx="2126.7" cy="1122.6" r="7.2"/>
<circle cx="2133.1" cy="1129.6" r="7.2"/>
<circle cx="2144.5" cy="1122.9" r="7.2"/>
<circle cx="2135" cy="1114.9" r="7.2"/>
<circle cx="2117.3" cy="1125.5" r="7.2"/>
<circle cx="2111.4" cy="1155.9" r="7.2"/>
<circle cx="2117.3" cy="1133" r="7.2"/>
<circle cx="2120.6" cy="1140.5" r="7.2"/>
<circle cx="2129.2" cy="1112" r="7.2"/>
<circle cx="2199.6" cy="1054.6" r="7.2"/>
<circle cx="2204.9" cy="1055" r="7.2"/>
<circle cx="2208.4" cy="1027.3" r="7.2"/>
<circle cx="2202.8" cy="1041.9" r="7.2"/>
<circle cx="2184.9" cy="1080.3" r="7.2"/>
<circle cx="2208.5" cy="1040.1" r="7.2"/>
<circle cx="2223.5" cy="1043.9" r="7.2"/>
<circle cx="2237.2" cy="1022.3" r="7.2"/>
<circle cx="2242" cy="1022.1" r="7.2"/>
<circle cx="2217.9" cy="1031.5" r="7.2"/>
<circle cx="2234.8" cy="1012.8" r="7.2"/>
<circle cx="2234.7" cy="1028.4" r="7.2"/>
<circle cx="2218.2" cy="1015.4" r="7.2"/>
<circle cx="2243.1" cy="1022.9" r="7.2"/>
<circle cx="2228.8" cy="1021.7" r="7.2"/>
<circle cx="2240.9" cy="1018.6" r="7.2"/>
<circle cx="2239.2" cy="1015.3" r="7.2"/>
<circle cx="2225.6" cy="1023.9" r="7.2"/>
<circle cx="2229.2" cy="1022.1" r="7.2"/>
<circle cx="2212.2" cy="1049.2" r="7.2"/>
<circle cx="2237.6" cy="1001.4" r="7.2"/>
<circle cx="2216.9" cy="1029.5" r="7.2"/>
<circle cx="2222.2" cy="1029" r="7.2"/>
<circle cx="2216.1" cy="1040.3" r="7.2"/>
<circle cx="2228.1" cy="1026.8" r="7.2"/>
<circle cx="2233.7" cy="1034.1" r="7.2"/>
<circle cx="2242.1" cy="1030.4" r="7.2"/>
<circle cx="2214" cy="1037" r="7.2"/>
<circle cx="2218.5" cy="1040.3" r="7.2"/>
<circle cx="2235" cy="1018.5" r="7.2"/>
<circle cx="2232.1" cy="1035.8" r="7.2"/>
<circle cx="2229.5" cy="1025.1" r="7.2"/>
<circle cx="2253.3" cy="1011.1" r="7.2"/>
<circle cx="2271.1" cy="971.3" r="7.2"/>
<circle cx="2250.2" cy="989.9" r="7.2"/>
<circle cx="2259.7" cy="1010.5" r="7.2"/>
<circle cx="2261.2" cy="988.7" r="7.2"/>
<circle cx="2259.1" cy="984.2" r="7.2"/>
<circle cx="2262.2" cy="969.6" r="7.2"/>
<circle cx="2259.5" cy="989.7" r="7.2"/>
<circle cx="2256" cy="993.6" r="7.2"/>
<circle cx="2258.7" cy="1004.1" r="7.2"/>
<circle cx="2264.8" cy="979" r="7.2"/>
<circle cx="2256.4" cy="992.4" r="7.2"/>
<circle cx="2272.8" cy="974.6" r="7.2"/>
<circle cx="2258.2" cy="997.7" r="7.2"/>
<circle cx="2247.7" cy="1018.7" r="7.2"/>
<circle cx="2271.1" cy="976" r="7.2"/>
<circle cx="2258.3" cy="996.8" r="7.2"/>
<circle cx="2262.6" cy="985.6" r="7.2"/>
<circle cx="2271.9" cy="971.6" r="7.2"/>
<circle cx="2244.6" cy="997.8" r="7.2"/>
<circle cx="2249.7" cy="1001.2" r="7.2"/>
<circle cx="2253.6" cy="986.9" r="7.2"/>
<circle cx="2254.6" cy="1001" r="7.2"/>
<circle cx="2266" cy="989.7" r="7.2"/>
<circle cx="2247.6" cy="1011.3" r="7.2"/>
<circle cx="2249.8" cy="1003.3" r="7.2"/>
<circle cx="2259.9" cy="1000.3" r="7.2"/>
<circle cx="2256.4" cy="993.4" r="7.2"/>
<circle cx="2259.9" cy="990.1" r="7.2"/>
<circle cx="2263" cy="985.4" r="7.2"/>
<circle cx="2263.2" cy="1005.4" r="7.2"/>
<circle cx="2262.4" cy="993.5" r="7.2"/>
<circle cx="2269.8" cy="981.9" r="7.2"/>
<circle cx="2268.4" cy="971.4" r="7.2"/>
<circle cx="2305.7" cy="951" r="7.2"/>
<circle cx="2306.4" cy="941" r="7.2"/>
<circle cx="2281.8" cy="954.6" r="7.2"/>
<circle cx="2278.8" cy="974.7" r="7.2"/>
<circle cx="2282.5" cy="971.8" r="7.2"/>
<circle cx="2277.5" cy="982" r="7.2"/>
<circle cx="2303.2" cy="963.3" r="7.2"/>
<circle cx="2278.6" cy="967.9" r="7.2"/>
<circle cx="2288.2" cy="965.9" r="7.2"/>
<circle cx="2281.2" cy="973.6" r="7.2"/>
<circle cx="2298" cy="937.5" r="7.2"/>
<circle cx="2278.2" cy="986.4" r="7.2"/>
<circle cx="2291.8" cy="961.3" r="7.2"/>
<circle cx="2298.1" cy="965.2" r="7.2"/>
<circle cx="2280.8" cy="969.1" r="7.2"/>
<circle cx="2275.5" cy="976.1" r="7.2"/>
<circle cx="2293.4" cy="970.7" r="7.2"/>
<circle cx="2279.3" cy="975" r="7.2"/>
<circle cx="2280.6" cy="968.3" r="7.2"/>
<circle cx="2308.8" cy="930.2" r="7.2"/>
<circle cx="2306.5" cy="944.9" r="7.2"/>
<circle cx="2307.4" cy="944.8" r="7.2"/>
<circle cx="2290.3" cy="962.6" r="7.2"/>
<circle cx="2290.5" cy="970.3" r="7.2"/>
<circle cx="2292.2" cy="971.4" r="7.2"/>
<circle cx="2274.6" cy="973.9" r="7.2"/>
<circle cx="2298.7" cy="952.2" r="7.2"/>
<circle cx="2290" cy="967.8" r="7.2"/>
<circle cx="2300" cy="958.2" r="7.2"/>
<circle cx="2279.9" cy="970.4" r="7.2"/>
<circle cx="2292.1" cy="944.3" r="7.2"/>
<circle cx="2302.2" cy="949.9" r="7.2"/>
<circle cx="2298.8" cy="947.6" r="7.2"/>
<circle cx="2288.3" cy="974" r="7.2"/>
<circle cx="2295.1" cy="981.8" r="7.2"/>
<circle cx="2302.3" cy="952.1" r="7.2"/>
<circle cx="2318.7" cy="924" r="7.2"/>
<circle cx="2338.1" cy="923.5" r="7.2"/>
<circle cx="2339.5" cy="929.5" r="7.2"/>
<circle cx="2341.9" cy="903" r="7.2"/>
<circle cx="2335" cy="917.9" r="7.2"/>
<circle cx="2324.2" cy="943.8" r="7.2"/>
<circle cx="2336" cy="911.7" r="7.2"/>
<circle cx="2326.6" cy="924.5" r="7.2"/>
<circle cx="2309.5" cy="951.6" r="7.2"/>
<circle cx="2332.4" cy="912.9" r="7.2"/>
<circle cx="2317.8" cy="925" r="7.2"/>
<circle cx="2321.7" cy="936.6" r="7.2"/>
<circle cx="2333.7" cy="929.8" r="7.2"/>
<circle cx="2323.6" cy="934.8" r="7.2"/>
<circle cx="2346.4" cy="916.2" r="7.2"/>
<circle cx="2337.5" cy="926.9" r="7.2"/>
<circle cx="2345.6" cy="897.9" r="7.2"/>
<circle cx="2336.6" cy="916.2" r="7.2"/>
<circle cx="2351" cy="899.7" r="7.2"/>
<circle cx="2328.8" cy="924.6" r="7.2"/>
<circle cx="2300.4" cy="935.5" r="7.2"/>
<circle cx="2310.9" cy="940.5" r="7.2"/>
<circle cx="2291.4" cy="949.9" r="7.2"/>
<circle cx="2302.3" cy="951.1" r="7.2"/>
<circle cx="2310.1" cy="952.2" r="7.2"/>
<circle cx="2269.2" cy="967.4" r="7.2"/>
<circle cx="2292.6" cy="972.4" r="7.2"/>
<circle cx="2278.2" cy="982.9" r="7.2"/>
<circle cx="2256.4" cy="984.1" r="7.2"/>
<circle cx="2258.7" cy="988" r="7.2"/>
<circle cx="2251.7" cy="995" r="7.2"/>
<circle cx="2263.4" cy="995.8" r="7.2"/>
<circle cx="2259.5" cy="1002.8" r="7.2"/>
<circle cx="2261.4" cy="1005.5" r="7.2"/>
<circle cx="2243.9" cy="1013.3" r="7.2"/>
<circle cx="2249.8" cy="1015.2" r="7.2"/>
<circle cx="2220.6" cy="1018.3" r="7.2"/>
<circle cx="2230.3" cy="1021.1" r="7.2"/>
<circle cx="2234.2" cy="1025.7" r="7.2"/>
<circle cx="2230.3" cy="1030" r="7.2"/>
<circle cx="2215.9" cy="1036.6" r="7.2"/>
<circle cx="2210" cy="1047.5" r="7.2"/>
<circle cx="2177.7" cy="1067.7" r="7.2"/>
<circle cx="2156.3" cy="1095" r="7.2"/>
<circle cx="2192.5" cy="1089.1" r="7.2"/>
<circle cx="2192.5" cy="1092.3" r="7.2"/>
<circle cx="2143.5" cy="1128" r="7.2"/>
<circle cx="2133" cy="1137.8" r="7.2"/>
<circle cx="2133" cy="1142.8" r="7.2"/>
<circle cx="2109.6" cy="1140.5" r="7.2"/>
<circle cx="2109.6" cy="1142.8" r="7.2"/>
<circle cx="2082.3" cy="1151.4" r="7.2"/>
<circle cx="2094" cy="1154.5" r="7.2"/>
<circle cx="2097.9" cy="1163" r="7.2"/>
<circle cx="2107.7" cy="1163" r="7.2"/>
<circle cx="2076.5" cy="1177.8" r="7.2"/>
<circle cx="2068.7" cy="1182.5" r="7.2"/>
<circle cx="2072.6" cy="1194.9" r="7.2"/>
<circle cx="2064.8" cy="1206.6" r="7.2"/>
<circle cx="2047.3" cy="1190.3" r="7.2"/>
<circle cx="2041.5" cy="1198.1" r="7.2"/>
<circle cx="2045.4" cy="1203.9" r="7.2"/>
<circle cx="2055.1" cy="1198.1" r="7.2"/>
<circle cx="2030.6" cy="1200.4" r="7.2"/>
<circle cx="2029.8" cy="1221.4" r="7.2"/>
<circle cx="2041.5" cy="1219.4" r="7.2"/>
<circle cx="2013.4" cy="1218.3" r="7.2"/>
<circle cx="2010.3" cy="1220.6" r="7.2"/>
<circle cx="2016.2" cy="1216.7" r="7.2"/>
<circle cx="1990.9" cy="1244.7" r="7.2"/>
<circle cx="2008.4" cy="1249.4" r="7.2"/>
<circle cx="2022" cy="1248.6" r="7.2"/>
<circle cx="1979.2" cy="1257.2" r="7.2"/>
<circle cx="1979.2" cy="1260.3" r="7.2"/>
<circle cx="1969.4" cy="1291.4" r="7.2"/>
<circle cx="2257.5" cy="993.8" r="7.2"/>
<circle cx="2265.3" cy="998.9" r="7.2"/>
<circle cx="2255.6" cy="989.9" r="7.2"/>
<circle cx="2376.7" cy="894.9" r="7.2"/>
<circle cx="2360.6" cy="907.3" r="7.2"/>
<circle cx="2338.6" cy="922.5" r="7.2"/>
<circle cx="2310.1" cy="932.6" r="7.2"/>
<circle cx="2304.2" cy="940.9" r="7.2"/>
<circle cx="2313.3" cy="946.4" r="7.2"/>
<circle cx="2299.6" cy="950" r="7.2"/>
<circle cx="2314.7" cy="954.6" r="7.2"/>
<circle cx="2297.3" cy="973.9" r="7.2"/>
<circle cx="2292.7" cy="967" r="7.2"/>
<circle cx="2283.5" cy="964.7" r="7.2"/>
<circle cx="2288.1" cy="960.1" r="7.2"/>
<circle cx="2278.9" cy="960.1" r="7.2"/>
<circle cx="2290.4" cy="955.5" r="7.2"/>
<circle cx="2274.3" cy="978.5" r="7.2"/>
<circle cx="2281.2" cy="971.6" r="7.2"/>
<circle cx="2252.7" cy="990" r="7.2"/>
<circle cx="2258.3" cy="1006" r="7.2"/>
<circle cx="2241.3" cy="1002.4" r="7.2"/>
<circle cx="2237.6" cy="1022.1" r="7.2"/>
<circle cx="2221.5" cy="1019.8" r="7.2"/>
<circle cx="2238.5" cy="1032.7" r="7.2"/>
<circle cx="2226.1" cy="1031.3" r="7.2"/>
<circle cx="2220.1" cy="1041.9" r="7.2"/>
<circle cx="2212.3" cy="1041.9" r="7.2"/>
<circle cx="2198.6" cy="1042.8" r="7.2"/>
<circle cx="2191.7" cy="1052" r="7.2"/>
<circle cx="2197.2" cy="1061.1" r="7.2"/>
<circle cx="2129.7" cy="1106.1" r="7.2"/>
<circle cx="2115.9" cy="1115.3" r="7.2"/>
<circle cx="2141.2" cy="1124.5" r="7.2"/>
<circle cx="2118.2" cy="1133.7" r="7.2"/>
<circle cx="2117.3" cy="1149.3" r="7.2"/>
<circle cx="2102.2" cy="1161.2" r="7.2"/>
<circle cx="2106.7" cy="1155.3" r="7.2"/>
<circle cx="2086.1" cy="1150.7" r="7.2"/>
<circle cx="2087" cy="1157.6" r="7.2"/>
<circle cx="2074.6" cy="1201.2" r="7.2"/>
<circle cx="2072.3" cy="1203.5" r="7.2"/>
<circle cx="2049.4" cy="1187.4" r="7.2"/>
<circle cx="2044.8" cy="1194.3" r="7.2"/>
<circle cx="2035.6" cy="1199.8" r="7.2"/>
<circle cx="2031" cy="1208.1" r="7.2"/>
<circle cx="2019.5" cy="1214.9" r="7.2"/>
<circle cx="2014.9" cy="1220.9" r="7.2"/>
<circle cx="2011.7" cy="1225.5" r="7.2"/>
<circle cx="2035.6" cy="1235.6" r="7.2"/>
<circle cx="2035.6" cy="1242.5" r="7.2"/>
<circle cx="1994.3" cy="1235.6" r="7.2"/>
<circle cx="1989.7" cy="1243.9" r="7.2"/>
<circle cx="2004.4" cy="1242.5" r="7.2"/>
<circle cx="2010.3" cy="1247.1" r="7.2"/>
<circle cx="2003.4" cy="1258.6" r="7.2"/>
<circle cx="1988.8" cy="1280.6" r="7.2"/>
<circle cx="2021.8" cy="1217.2" r="7.2"/>
<circle cx="2008" cy="1237.9" r="7.2"/>
<circle cx="2004.4" cy="1256.3" r="7.2"/>
</g>
<text x="1913" y="1376.5" font-size="25" text-anchor="middle" font-weight="400" fill="#262626">-1</text>
<text x="1903" y="1351.3" font-size="25" text-anchor="end" font-weight="400" fill="#262626">-1</text>
<text x="2029.5" y="1376.5" font-size="25" text-anchor="middle" font-weight="400" fill="#262626">-0.5</text>
<text x="1903" y="1234.8" font-size="25" text-anchor="end" font-weight="400" fill="#262626">-0.5</text>
<text x="2146" y="1376.5" font-size="25" text-anchor="middle" font-weight="400" fill="#262626">0</text>
<text x="1903" y="1118.3" font-size="25" text-anchor="end" font-weight="400" fill="#262626">0</text>
<text x="2262.5" y="1376.5" font-size="25" text-anchor="middle" font-weight="400" fill="#262626">0.5</text>
<text x="1903" y="1001.8" font-size="25" text-anchor="end" font-weight="400" fill="#262626">0.5</text>
<text x="2379" y="1376.5" font-size="25" text-anchor="middle" font-weight="400" fill="#262626">1</text>
<text x="1903" y="885.3" font-size="25" text-anchor="end" font-weight="400" fill="#262626">1</text>
<text x="2147.2" y="861.3" font-size="32" text-anchor="middle" font-weight="700" fill="#000">All: R=0.99347</text>
<text x="2146" y="1418.2" font-size="32.4" text-anchor="middle" font-weight="700" fill="#262626">Target</text>
<text transform="translate(1845,1106.8) rotate(-90)" font-size="32" font-weight="700" text-anchor="middle" fill="#262626">Output ~= 0.98*Target + 0.0041</text>
<rect x="1933.3" y="894.8" width="157" height="96" fill="#fff" stroke="#262626" stroke-width="1.3"/>
<circle cx="1981" cy="913" r="7.5" fill="none" stroke="#000" stroke-width="1.2"/>
<text x="2027.5" y="921" font-size="23" text-anchor="start" font-weight="400" fill="#000">Data</text>
<line x1="1941" y1="942.1" x2="2021" y2="942.1" stroke="#666666" stroke-width="5"/>
<text x="2027.5" y="951" font-size="23" text-anchor="start" font-weight="400" fill="#000">Fit</text>
<line x1="1941" y1="972.2" x2="2021" y2="972.2" stroke="#000" stroke-width="1" stroke-dasharray="1 2.5"/>
<text x="2027.5" y="981" font-size="23" text-anchor="start" font-weight="400" fill="#000">Y = T</text>
<text x="1618.5" y="1431" font-size="74" text-anchor="start" font-weight="700" fill="#a9a9a9" textLength="153" lengthAdjust="spacingAndGlyphs">知乎</text>
<text x="1800.5" y="1431" font-size="74" text-anchor="start" font-weight="700" fill="#a9a9a9" textLength="654" lengthAdjust="spacingAndGlyphs">@神经网络深度学习</text>
<text x="1613" y="1425.5" font-size="74" text-anchor="start" font-weight="700" fill="#ffffff" textLength="153" lengthAdjust="spacingAndGlyphs">知乎</text>
<text x="1795" y="1425.5" font-size="74" text-anchor="start" font-weight="700" fill="#ffffff" textLength="654" lengthAdjust="spacingAndGlyphs">@神经网络深度学习</text>
<text x="2211" y="1491" font-size="19.2" text-anchor="start" font-weight="400" fill="#9a9a9a" textLength="290.6" lengthAdjust="spacingAndGlyphs">CSDN @Matlab神经网络深度学习</text>
</svg></body></html>
